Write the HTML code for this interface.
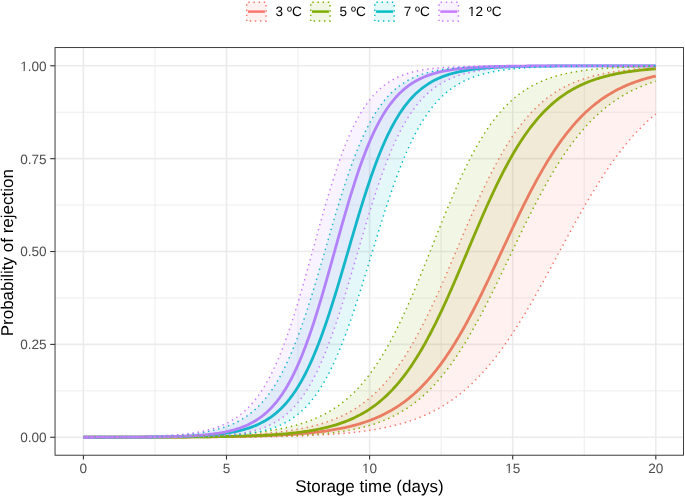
<!DOCTYPE html>
<html><head><meta charset="utf-8"><style>
html,body{margin:0;padding:0;background:#fff;}
svg{display:block;filter:blur(0.35px);}
text{font-family:"Liberation Sans",Arial,sans-serif;text-rendering:geometricPrecision;}
.ax{font-size:13.6px;fill:#4D4D4D;}
.ti{font-size:17px;fill:#000;}
.lg{font-size:13.6px;fill:#000;}
</style></head><body>
<svg width="685" height="498" viewBox="0 0 685 498">
<rect x="0" y="0" width="685" height="498" fill="#fff"/>
<line x1="154.95" y1="47.56" x2="154.95" y2="455.22" stroke="#EBEBEB" stroke-width="0.9"/>
<line x1="298.05" y1="47.56" x2="298.05" y2="455.22" stroke="#EBEBEB" stroke-width="0.9"/>
<line x1="441.15" y1="47.56" x2="441.15" y2="455.22" stroke="#EBEBEB" stroke-width="0.9"/>
<line x1="584.25" y1="47.56" x2="584.25" y2="455.22" stroke="#EBEBEB" stroke-width="0.9"/>
<line x1="55.04" y1="390.83" x2="683.47" y2="390.83" stroke="#EBEBEB" stroke-width="0.9"/>
<line x1="55.04" y1="297.96" x2="683.47" y2="297.96" stroke="#EBEBEB" stroke-width="0.9"/>
<line x1="55.04" y1="205.10" x2="683.47" y2="205.10" stroke="#EBEBEB" stroke-width="0.9"/>
<line x1="55.04" y1="112.23" x2="683.47" y2="112.23" stroke="#EBEBEB" stroke-width="0.9"/>
<line x1="83.40" y1="47.56" x2="83.40" y2="455.22" stroke="#EBEBEB" stroke-width="1.6"/>
<line x1="226.50" y1="47.56" x2="226.50" y2="455.22" stroke="#EBEBEB" stroke-width="1.6"/>
<line x1="369.60" y1="47.56" x2="369.60" y2="455.22" stroke="#EBEBEB" stroke-width="1.6"/>
<line x1="512.70" y1="47.56" x2="512.70" y2="455.22" stroke="#EBEBEB" stroke-width="1.6"/>
<line x1="655.80" y1="47.56" x2="655.80" y2="455.22" stroke="#EBEBEB" stroke-width="1.6"/>
<line x1="55.04" y1="437.26" x2="683.47" y2="437.26" stroke="#EBEBEB" stroke-width="1.6"/>
<line x1="55.04" y1="344.39" x2="683.47" y2="344.39" stroke="#EBEBEB" stroke-width="1.6"/>
<line x1="55.04" y1="251.53" x2="683.47" y2="251.53" stroke="#EBEBEB" stroke-width="1.6"/>
<line x1="55.04" y1="158.67" x2="683.47" y2="158.67" stroke="#EBEBEB" stroke-width="1.6"/>
<line x1="55.04" y1="65.80" x2="683.47" y2="65.80" stroke="#EBEBEB" stroke-width="1.6"/>
<path d="M83.40,437.24 L84.83,437.24 L86.26,437.23 L87.69,437.23 L89.12,437.23 L90.56,437.23 L91.99,437.23 L93.42,437.23 L94.85,437.23 L96.28,437.23 L97.71,437.23 L99.14,437.23 L100.57,437.22 L102.00,437.22 L103.43,437.22 L104.87,437.22 L106.30,437.22 L107.73,437.22 L109.16,437.22 L110.59,437.22 L112.02,437.21 L113.45,437.21 L114.88,437.21 L116.31,437.21 L117.74,437.21 L119.18,437.21 L120.61,437.20 L122.04,437.20 L123.47,437.20 L124.90,437.20 L126.33,437.20 L127.76,437.19 L129.19,437.19 L130.62,437.19 L132.05,437.19 L133.49,437.19 L134.92,437.18 L136.35,437.18 L137.78,437.18 L139.21,437.17 L140.64,437.17 L142.07,437.17 L143.50,437.17 L144.93,437.16 L146.36,437.16 L147.80,437.16 L149.23,437.15 L150.66,437.15 L152.09,437.14 L153.52,437.14 L154.95,437.14 L156.38,437.13 L157.81,437.13 L159.24,437.12 L160.67,437.12 L162.11,437.11 L163.54,437.11 L164.97,437.10 L166.40,437.10 L167.83,437.09 L169.26,437.09 L170.69,437.08 L172.12,437.08 L173.55,437.07 L174.98,437.06 L176.42,437.06 L177.85,437.05 L179.28,437.04 L180.71,437.04 L182.14,437.03 L183.57,437.02 L185.00,437.01 L186.43,437.01 L187.86,437.00 L189.29,436.99 L190.73,436.98 L192.16,436.97 L193.59,436.96 L195.02,436.95 L196.45,436.94 L197.88,436.93 L199.31,436.92 L200.74,436.91 L202.17,436.89 L203.60,436.88 L205.04,436.87 L206.47,436.86 L207.90,436.84 L209.33,436.83 L210.76,436.81 L212.19,436.80 L213.62,436.78 L215.05,436.77 L216.48,436.75 L217.91,436.73 L219.34,436.72 L220.78,436.70 L222.21,436.68 L223.64,436.66 L225.07,436.64 L226.50,436.62 L227.93,436.60 L229.36,436.57 L230.79,436.55 L232.22,436.53 L233.66,436.50 L235.09,436.48 L236.52,436.45 L237.95,436.42 L239.38,436.40 L240.81,436.37 L242.24,436.34 L243.67,436.31 L245.10,436.27 L246.53,436.24 L247.97,436.21 L249.40,436.17 L250.83,436.13 L252.26,436.10 L253.69,436.06 L255.12,436.02 L256.55,435.98 L257.98,435.93 L259.41,435.89 L260.84,435.84 L262.27,435.80 L263.71,435.75 L265.14,435.70 L266.57,435.64 L268.00,435.59 L269.43,435.53 L270.86,435.48 L272.29,435.42 L273.72,435.35 L275.15,435.29 L276.59,435.22 L278.02,435.16 L279.45,435.09 L280.88,435.01 L282.31,434.94 L283.74,434.86 L285.17,434.78 L286.60,434.70 L288.03,434.61 L289.46,434.52 L290.89,434.43 L292.33,434.34 L293.76,434.24 L295.19,434.14 L296.62,434.04 L298.05,433.93 L299.48,433.82 L300.91,433.70 L302.34,433.58 L303.77,433.46 L305.21,433.34 L306.64,433.20 L308.07,433.07 L309.50,432.93 L310.93,432.79 L312.36,432.64 L313.79,432.48 L315.22,432.33 L316.65,432.16 L318.08,431.99 L319.51,431.82 L320.95,431.64 L322.38,431.45 L323.81,431.26 L325.24,431.06 L326.67,430.86 L328.10,430.65 L329.53,430.43 L330.96,430.20 L332.39,429.97 L333.83,429.73 L335.26,429.48 L336.69,429.23 L338.12,428.96 L339.55,428.69 L340.98,428.41 L342.41,428.12 L343.84,427.82 L345.27,427.51 L346.70,427.19 L348.13,426.86 L349.57,426.52 L351.00,426.17 L352.43,425.81 L353.86,425.44 L355.29,425.05 L356.72,424.66 L358.15,424.25 L359.58,423.82 L361.01,423.39 L362.45,422.94 L363.88,422.48 L365.31,422.00 L366.74,421.51 L368.17,421.00 L369.60,420.48 L371.03,419.95 L372.46,419.39 L373.89,418.82 L375.32,418.23 L376.75,417.63 L378.19,417.00 L379.62,416.36 L381.05,415.70 L382.48,415.01 L383.91,414.31 L385.34,413.59 L386.77,412.85 L388.20,412.08 L389.63,411.29 L391.07,410.48 L392.50,409.65 L393.93,408.79 L395.36,407.91 L396.79,407.00 L398.22,406.07 L399.65,405.11 L401.08,404.13 L402.51,403.12 L403.94,402.08 L405.38,401.01 L406.81,399.92 L408.24,398.79 L409.67,397.63 L411.10,396.45 L412.53,395.23 L413.96,393.98 L415.39,392.70 L416.82,391.39 L418.25,390.04 L419.69,388.66 L421.12,387.25 L422.55,385.80 L423.98,384.31 L425.41,382.79 L426.84,381.24 L428.27,379.65 L429.70,378.02 L431.13,376.35 L432.56,374.65 L434.00,372.91 L435.43,371.13 L436.86,369.31 L438.29,367.46 L439.72,365.57 L441.15,363.63 L442.58,361.66 L444.01,359.65 L445.44,357.60 L446.87,355.51 L448.31,353.38 L449.74,351.21 L451.17,349.01 L452.60,346.76 L454.03,344.48 L455.46,342.16 L456.89,339.80 L458.32,337.40 L459.75,334.97 L461.18,332.50 L462.62,330.00 L464.05,327.46 L465.48,324.88 L466.91,322.27 L468.34,319.63 L469.77,316.95 L471.20,314.25 L472.63,311.51 L474.06,308.75 L475.49,305.95 L476.93,303.13 L478.36,300.28 L479.79,297.41 L481.22,294.52 L482.65,291.60 L484.08,288.66 L485.51,285.70 L486.94,282.73 L488.37,279.73 L489.80,276.73 L491.24,273.70 L492.67,270.67 L494.10,267.63 L495.53,264.57 L496.96,261.51 L498.39,258.45 L499.82,255.38 L501.25,252.31 L502.68,249.24 L504.11,246.17 L505.55,243.10 L506.98,240.04 L508.41,236.98 L509.84,233.93 L511.27,230.90 L512.70,227.87 L514.13,224.85 L515.56,221.85 L516.99,218.87 L518.42,215.90 L519.86,212.95 L521.29,210.02 L522.72,207.12 L524.15,204.23 L525.58,201.37 L527.01,198.54 L528.44,195.73 L529.87,192.95 L531.30,190.20 L532.73,187.48 L534.17,184.79 L535.60,182.13 L537.03,179.50 L538.46,176.91 L539.89,174.35 L541.32,171.83 L542.75,169.34 L544.18,166.89 L545.61,164.47 L547.04,162.09 L548.48,159.75 L549.91,157.45 L551.34,155.19 L552.77,152.96 L554.20,150.77 L555.63,148.63 L557.06,146.52 L558.49,144.45 L559.92,142.42 L561.35,140.42 L562.78,138.47 L564.22,136.56 L565.65,134.68 L567.08,132.85 L568.51,131.05 L569.94,129.29 L571.37,127.57 L572.80,125.88 L574.23,124.23 L575.66,122.62 L577.10,121.05 L578.53,119.51 L579.96,118.01 L581.39,116.54 L582.82,115.11 L584.25,113.72 L585.68,112.35 L587.11,111.02 L588.54,109.72 L589.97,108.46 L591.40,107.23 L592.84,106.03 L594.27,104.85 L595.70,103.71 L597.13,102.60 L598.56,101.52 L599.99,100.47 L601.42,99.44 L602.85,98.44 L604.28,97.47 L605.72,96.53 L607.15,95.61 L608.58,94.71 L610.01,93.84 L611.44,93.00 L612.87,92.18 L614.30,91.38 L615.73,90.60 L617.16,89.84 L618.59,89.11 L620.02,88.40 L621.46,87.71 L622.89,87.04 L624.32,86.38 L625.75,85.75 L627.18,85.13 L628.61,84.54 L630.04,83.96 L631.47,83.39 L632.90,82.85 L634.34,82.32 L635.77,81.80 L637.20,81.31 L638.63,80.82 L640.06,80.35 L641.49,79.90 L642.92,79.45 L644.35,79.03 L645.78,78.61 L647.21,78.21 L648.64,77.82 L650.08,77.44 L651.51,77.07 L652.94,76.72 L654.37,76.37 L655.80,76.04" fill="none" stroke="#F8766D" stroke-width="2.8" stroke-linejoin="round"/>
<path d="M83.40,437.24 L84.83,437.24 L86.26,437.24 L87.69,437.24 L89.12,437.24 L90.56,437.24 L91.99,437.23 L93.42,437.23 L94.85,437.23 L96.28,437.23 L97.71,437.23 L99.14,437.23 L100.57,437.23 L102.00,437.23 L103.43,437.23 L104.87,437.23 L106.30,437.22 L107.73,437.22 L109.16,437.22 L110.59,437.22 L112.02,437.22 L113.45,437.22 L114.88,437.22 L116.31,437.21 L117.74,437.21 L119.18,437.21 L120.61,437.21 L122.04,437.21 L123.47,437.20 L124.90,437.20 L126.33,437.20 L127.76,437.20 L129.19,437.20 L130.62,437.19 L132.05,437.19 L133.49,437.19 L134.92,437.18 L136.35,437.18 L137.78,437.18 L139.21,437.18 L140.64,437.17 L142.07,437.17 L143.50,437.17 L144.93,437.16 L146.36,437.16 L147.80,437.16 L149.23,437.15 L150.66,437.15 L152.09,437.14 L153.52,437.14 L154.95,437.13 L156.38,437.13 L157.81,437.13 L159.24,437.12 L160.67,437.11 L162.11,437.11 L163.54,437.10 L164.97,437.10 L166.40,437.09 L167.83,437.09 L169.26,437.08 L170.69,437.07 L172.12,437.07 L173.55,437.06 L174.98,437.05 L176.42,437.04 L177.85,437.03 L179.28,437.03 L180.71,437.02 L182.14,437.01 L183.57,437.00 L185.00,436.99 L186.43,436.98 L187.86,436.97 L189.29,436.96 L190.73,436.95 L192.16,436.94 L193.59,436.92 L195.02,436.91 L196.45,436.90 L197.88,436.88 L199.31,436.87 L200.74,436.86 L202.17,436.84 L203.60,436.83 L205.04,436.81 L206.47,436.79 L207.90,436.77 L209.33,436.76 L210.76,436.74 L212.19,436.72 L213.62,436.70 L215.05,436.68 L216.48,436.66 L217.91,436.63 L219.34,436.61 L220.78,436.59 L222.21,436.56 L223.64,436.53 L225.07,436.51 L226.50,436.48 L227.93,436.45 L229.36,436.42 L230.79,436.39 L232.22,436.36 L233.66,436.32 L235.09,436.29 L236.52,436.25 L237.95,436.21 L239.38,436.18 L240.81,436.14 L242.24,436.09 L243.67,436.05 L245.10,436.01 L246.53,435.96 L247.97,435.91 L249.40,435.86 L250.83,435.81 L252.26,435.75 L253.69,435.70 L255.12,435.64 L256.55,435.58 L257.98,435.52 L259.41,435.45 L260.84,435.39 L262.27,435.32 L263.71,435.24 L265.14,435.17 L266.57,435.09 L268.00,435.01 L269.43,434.93 L270.86,434.84 L272.29,434.75 L273.72,434.66 L275.15,434.56 L276.59,434.46 L278.02,434.36 L279.45,434.25 L280.88,434.14 L282.31,434.03 L283.74,433.91 L285.17,433.78 L286.60,433.66 L288.03,433.52 L289.46,433.38 L290.89,433.24 L292.33,433.09 L293.76,432.94 L295.19,432.78 L296.62,432.62 L298.05,432.45 L299.48,432.27 L300.91,432.08 L302.34,431.89 L303.77,431.70 L305.21,431.49 L306.64,431.28 L308.07,431.06 L309.50,430.83 L310.93,430.60 L312.36,430.36 L313.79,430.10 L315.22,429.84 L316.65,429.57 L318.08,429.29 L319.51,429.00 L320.95,428.70 L322.38,428.39 L323.81,428.06 L325.24,427.73 L326.67,427.38 L328.10,427.03 L329.53,426.66 L330.96,426.27 L332.39,425.88 L333.83,425.46 L335.26,425.04 L336.69,424.60 L338.12,424.14 L339.55,423.67 L340.98,423.18 L342.41,422.68 L343.84,422.16 L345.27,421.62 L346.70,421.06 L348.13,420.48 L349.57,419.89 L351.00,419.27 L352.43,418.63 L353.86,417.98 L355.29,417.30 L356.72,416.59 L358.15,415.87 L359.58,415.12 L361.01,414.34 L362.45,413.54 L363.88,412.72 L365.31,411.86 L366.74,410.98 L368.17,410.07 L369.60,409.14 L371.03,408.17 L372.46,407.17 L373.89,406.15 L375.32,405.09 L376.75,403.99 L378.19,402.87 L379.62,401.71 L381.05,400.52 L382.48,399.28 L383.91,398.02 L385.34,396.71 L386.77,395.37 L388.20,393.99 L389.63,392.57 L391.07,391.12 L392.50,389.62 L393.93,388.07 L395.36,386.49 L396.79,384.86 L398.22,383.19 L399.65,381.48 L401.08,379.72 L402.51,377.92 L403.94,376.07 L405.38,374.18 L406.81,372.24 L408.24,370.25 L409.67,368.22 L411.10,366.14 L412.53,364.01 L413.96,361.83 L415.39,359.60 L416.82,357.33 L418.25,355.01 L419.69,352.64 L421.12,350.23 L422.55,347.76 L423.98,345.25 L425.41,342.70 L426.84,340.09 L428.27,337.44 L429.70,334.75 L431.13,332.01 L432.56,329.22 L434.00,326.40 L435.43,323.53 L436.86,320.62 L438.29,317.67 L439.72,314.68 L441.15,311.66 L442.58,308.60 L444.01,305.50 L445.44,302.37 L446.87,299.21 L448.31,296.02 L449.74,292.80 L451.17,289.56 L452.60,286.29 L454.03,283.00 L455.46,279.69 L456.89,276.36 L458.32,273.01 L459.75,269.65 L461.18,266.27 L462.62,262.89 L464.05,259.50 L465.48,256.11 L466.91,252.71 L468.34,249.31 L469.77,245.91 L471.20,242.51 L472.63,239.13 L474.06,235.75 L475.49,232.38 L476.93,229.02 L478.36,225.68 L479.79,222.35 L481.22,219.05 L482.65,215.76 L484.08,212.50 L485.51,209.26 L486.94,206.05 L488.37,202.87 L489.80,199.72 L491.24,196.60 L492.67,193.52 L494.10,190.47 L495.53,187.45 L496.96,184.48 L498.39,181.54 L499.82,178.64 L501.25,175.79 L502.68,172.97 L504.11,170.20 L505.55,167.48 L506.98,164.80 L508.41,162.16 L509.84,159.57 L511.27,157.03 L512.70,154.53 L514.13,152.08 L515.56,149.68 L516.99,147.33 L518.42,145.02 L519.86,142.77 L521.29,140.56 L522.72,138.39 L524.15,136.28 L525.58,134.21 L527.01,132.19 L528.44,130.22 L529.87,128.29 L531.30,126.41 L532.73,124.58 L534.17,122.79 L535.60,121.05 L537.03,119.35 L538.46,117.69 L539.89,116.08 L541.32,114.51 L542.75,112.98 L544.18,111.49 L545.61,110.04 L547.04,108.64 L548.48,107.27 L549.91,105.94 L551.34,104.65 L552.77,103.39 L554.20,102.17 L555.63,100.99 L557.06,99.84 L558.49,98.73 L559.92,97.64 L561.35,96.59 L562.78,95.58 L564.22,94.59 L565.65,93.63 L567.08,92.70 L568.51,91.80 L569.94,90.93 L571.37,90.09 L572.80,89.27 L574.23,88.48 L575.66,87.71 L577.10,86.97 L578.53,86.25 L579.96,85.55 L581.39,84.88 L582.82,84.23 L584.25,83.60 L585.68,82.99 L587.11,82.40 L588.54,81.82 L589.97,81.27 L591.40,80.74 L592.84,80.22 L594.27,79.72 L595.70,79.24 L597.13,78.78 L598.56,78.32 L599.99,77.89 L601.42,77.47 L602.85,77.06 L604.28,76.67 L605.72,76.29 L607.15,75.92 L608.58,75.57 L610.01,75.23 L611.44,74.89 L612.87,74.58 L614.30,74.27 L615.73,73.97 L617.16,73.68 L618.59,73.40 L620.02,73.14 L621.46,72.88 L622.89,72.63 L624.32,72.39 L625.75,72.15 L627.18,71.93 L628.61,71.71 L630.04,71.50 L631.47,71.30 L632.90,71.11 L634.34,70.92 L635.77,70.74 L637.20,70.56 L638.63,70.39 L640.06,70.23 L641.49,70.07 L642.92,69.92 L644.35,69.77 L645.78,69.63 L647.21,69.50 L648.64,69.36 L650.08,69.24 L651.51,69.11 L652.94,69.00 L654.37,68.88 L655.80,68.77" fill="none" stroke="#7CAE00" stroke-width="2.8" stroke-linejoin="round"/>
<path d="M83.40,437.24 L84.83,437.24 L86.26,437.24 L87.69,437.24 L89.12,437.23 L90.56,437.23 L91.99,437.23 L93.42,437.23 L94.85,437.23 L96.28,437.23 L97.71,437.22 L99.14,437.22 L100.57,437.22 L102.00,437.22 L103.43,437.22 L104.87,437.21 L106.30,437.21 L107.73,437.21 L109.16,437.21 L110.59,437.20 L112.02,437.20 L113.45,437.20 L114.88,437.19 L116.31,437.19 L117.74,437.19 L119.18,437.18 L120.61,437.18 L122.04,437.17 L123.47,437.17 L124.90,437.16 L126.33,437.16 L127.76,437.15 L129.19,437.15 L130.62,437.14 L132.05,437.13 L133.49,437.13 L134.92,437.12 L136.35,437.11 L137.78,437.11 L139.21,437.10 L140.64,437.09 L142.07,437.08 L143.50,437.07 L144.93,437.06 L146.36,437.05 L147.80,437.04 L149.23,437.02 L150.66,437.01 L152.09,437.00 L153.52,436.98 L154.95,436.97 L156.38,436.95 L157.81,436.93 L159.24,436.92 L160.67,436.90 L162.11,436.88 L163.54,436.86 L164.97,436.84 L166.40,436.81 L167.83,436.79 L169.26,436.76 L170.69,436.74 L172.12,436.71 L173.55,436.68 L174.98,436.65 L176.42,436.61 L177.85,436.58 L179.28,436.54 L180.71,436.50 L182.14,436.46 L183.57,436.42 L185.00,436.37 L186.43,436.32 L187.86,436.27 L189.29,436.22 L190.73,436.16 L192.16,436.10 L193.59,436.04 L195.02,435.97 L196.45,435.91 L197.88,435.83 L199.31,435.75 L200.74,435.67 L202.17,435.59 L203.60,435.50 L205.04,435.40 L206.47,435.30 L207.90,435.19 L209.33,435.08 L210.76,434.96 L212.19,434.84 L213.62,434.71 L215.05,434.57 L216.48,434.43 L217.91,434.27 L219.34,434.11 L220.78,433.94 L222.21,433.76 L223.64,433.58 L225.07,433.38 L226.50,433.17 L227.93,432.95 L229.36,432.72 L230.79,432.47 L232.22,432.22 L233.66,431.95 L235.09,431.66 L236.52,431.36 L237.95,431.05 L239.38,430.71 L240.81,430.36 L242.24,430.00 L243.67,429.61 L245.10,429.20 L246.53,428.77 L247.97,428.32 L249.40,427.85 L250.83,427.35 L252.26,426.83 L253.69,426.28 L255.12,425.70 L256.55,425.09 L257.98,424.45 L259.41,423.78 L260.84,423.07 L262.27,422.33 L263.71,421.55 L265.14,420.74 L266.57,419.88 L268.00,418.98 L269.43,418.04 L270.86,417.05 L272.29,416.01 L273.72,414.93 L275.15,413.79 L276.59,412.60 L278.02,411.35 L279.45,410.04 L280.88,408.67 L282.31,407.24 L283.74,405.75 L285.17,404.19 L286.60,402.56 L288.03,400.85 L289.46,399.08 L290.89,397.22 L292.33,395.29 L293.76,393.28 L295.19,391.18 L296.62,389.00 L298.05,386.73 L299.48,384.38 L300.91,381.93 L302.34,379.39 L303.77,376.75 L305.21,374.02 L306.64,371.19 L308.07,368.26 L309.50,365.24 L310.93,362.11 L312.36,358.89 L313.79,355.56 L315.22,352.13 L316.65,348.61 L318.08,344.98 L319.51,341.26 L320.95,337.44 L322.38,333.53 L323.81,329.52 L325.24,325.42 L326.67,321.24 L328.10,316.97 L329.53,312.62 L330.96,308.20 L332.39,303.70 L333.83,299.14 L335.26,294.51 L336.69,289.83 L338.12,285.09 L339.55,280.31 L340.98,275.49 L342.41,270.64 L343.84,265.76 L345.27,260.86 L346.70,255.95 L348.13,251.03 L349.57,246.11 L351.00,241.20 L352.43,236.30 L353.86,231.43 L355.29,226.58 L356.72,221.77 L358.15,217.00 L359.58,212.27 L361.01,207.60 L362.45,202.99 L363.88,198.43 L365.31,193.95 L366.74,189.54 L368.17,185.21 L369.60,180.96 L371.03,176.79 L372.46,172.71 L373.89,168.73 L375.32,164.83 L376.75,161.03 L378.19,157.33 L379.62,153.72 L381.05,150.22 L382.48,146.81 L383.91,143.51 L385.34,140.30 L386.77,137.20 L388.20,134.19 L389.63,131.28 L391.07,128.48 L392.50,125.76 L393.93,123.15 L395.36,120.63 L396.79,118.20 L398.22,115.86 L399.65,113.61 L401.08,111.44 L402.51,109.36 L403.94,107.37 L405.38,105.45 L406.81,103.61 L408.24,101.85 L409.67,100.16 L411.10,98.55 L412.53,97.00 L413.96,95.52 L415.39,94.10 L416.82,92.75 L418.25,91.45 L419.69,90.22 L421.12,89.04 L422.55,87.91 L423.98,86.83 L425.41,85.81 L426.84,84.83 L428.27,83.89 L429.70,83.00 L431.13,82.15 L432.56,81.34 L434.00,80.57 L435.43,79.84 L436.86,79.14 L438.29,78.48 L439.72,77.84 L441.15,77.24 L442.58,76.67 L444.01,76.12 L445.44,75.61 L446.87,75.11 L448.31,74.64 L449.74,74.20 L451.17,73.77 L452.60,73.37 L454.03,72.99 L455.46,72.62 L456.89,72.28 L458.32,71.95 L459.75,71.64 L461.18,71.34 L462.62,71.06 L464.05,70.79 L465.48,70.54 L466.91,70.29 L468.34,70.07 L469.77,69.85 L471.20,69.64 L472.63,69.44 L474.06,69.26 L475.49,69.08 L476.93,68.91 L478.36,68.75 L479.79,68.60 L481.22,68.46 L482.65,68.32 L484.08,68.19 L485.51,68.07 L486.94,67.95 L488.37,67.84 L489.80,67.74 L491.24,67.64 L492.67,67.55 L494.10,67.46 L495.53,67.37 L496.96,67.29 L498.39,67.21 L499.82,67.14 L501.25,67.07 L502.68,67.01 L504.11,66.94 L505.55,66.89 L506.98,66.83 L508.41,66.78 L509.84,66.73 L511.27,66.68 L512.70,66.63 L514.13,66.59 L515.56,66.55 L516.99,66.51 L518.42,66.47 L519.86,66.44 L521.29,66.41 L522.72,66.38 L524.15,66.35 L525.58,66.32 L527.01,66.29 L528.44,66.27 L529.87,66.24 L531.30,66.22 L532.73,66.20 L534.17,66.18 L535.60,66.16 L537.03,66.14 L538.46,66.12 L539.89,66.10 L541.32,66.09 L542.75,66.07 L544.18,66.06 L545.61,66.05 L547.04,66.03 L548.48,66.02 L549.91,66.01 L551.34,66.00 L552.77,65.99 L554.20,65.98 L555.63,65.97 L557.06,65.96 L558.49,65.95 L559.92,65.95 L561.35,65.94 L562.78,65.93 L564.22,65.92 L565.65,65.92 L567.08,65.91 L568.51,65.91 L569.94,65.90 L571.37,65.90 L572.80,65.89 L574.23,65.89 L575.66,65.88 L577.10,65.88 L578.53,65.87 L579.96,65.87 L581.39,65.87 L582.82,65.86 L584.25,65.86 L585.68,65.86 L587.11,65.85 L588.54,65.85 L589.97,65.85 L591.40,65.85 L592.84,65.84 L594.27,65.84 L595.70,65.84 L597.13,65.84 L598.56,65.83 L599.99,65.83 L601.42,65.83 L602.85,65.83 L604.28,65.83 L605.72,65.83 L607.15,65.83 L608.58,65.82 L610.01,65.82 L611.44,65.82 L612.87,65.82 L614.30,65.82 L615.73,65.82 L617.16,65.82 L618.59,65.82 L620.02,65.82 L621.46,65.81 L622.89,65.81 L624.32,65.81 L625.75,65.81 L627.18,65.81 L628.61,65.81 L630.04,65.81 L631.47,65.81 L632.90,65.81 L634.34,65.81 L635.77,65.81 L637.20,65.81 L638.63,65.81 L640.06,65.81 L641.49,65.81 L642.92,65.81 L644.35,65.81 L645.78,65.81 L647.21,65.81 L648.64,65.81 L650.08,65.81 L651.51,65.80 L652.94,65.80 L654.37,65.80 L655.80,65.80" fill="none" stroke="#00BFC4" stroke-width="2.8" stroke-linejoin="round"/>
<path d="M83.40,437.24 L84.83,437.24 L86.26,437.24 L87.69,437.23 L89.12,437.23 L90.56,437.23 L91.99,437.23 L93.42,437.23 L94.85,437.23 L96.28,437.22 L97.71,437.22 L99.14,437.22 L100.57,437.22 L102.00,437.21 L103.43,437.21 L104.87,437.21 L106.30,437.21 L107.73,437.20 L109.16,437.20 L110.59,437.20 L112.02,437.19 L113.45,437.19 L114.88,437.19 L116.31,437.18 L117.74,437.18 L119.18,437.17 L120.61,437.17 L122.04,437.16 L123.47,437.16 L124.90,437.15 L126.33,437.14 L127.76,437.14 L129.19,437.13 L130.62,437.12 L132.05,437.12 L133.49,437.11 L134.92,437.10 L136.35,437.09 L137.78,437.08 L139.21,437.07 L140.64,437.06 L142.07,437.05 L143.50,437.04 L144.93,437.02 L146.36,437.01 L147.80,436.99 L149.23,436.98 L150.66,436.96 L152.09,436.95 L153.52,436.93 L154.95,436.91 L156.38,436.89 L157.81,436.87 L159.24,436.85 L160.67,436.82 L162.11,436.80 L163.54,436.77 L164.97,436.74 L166.40,436.71 L167.83,436.68 L169.26,436.65 L170.69,436.62 L172.12,436.58 L173.55,436.54 L174.98,436.50 L176.42,436.46 L177.85,436.41 L179.28,436.36 L180.71,436.31 L182.14,436.26 L183.57,436.20 L185.00,436.14 L186.43,436.07 L187.86,436.01 L189.29,435.94 L190.73,435.86 L192.16,435.78 L193.59,435.70 L195.02,435.61 L196.45,435.51 L197.88,435.41 L199.31,435.31 L200.74,435.20 L202.17,435.08 L203.60,434.96 L205.04,434.83 L206.47,434.69 L207.90,434.55 L209.33,434.39 L210.76,434.23 L212.19,434.06 L213.62,433.88 L215.05,433.69 L216.48,433.48 L217.91,433.27 L219.34,433.05 L220.78,432.81 L222.21,432.56 L223.64,432.29 L225.07,432.01 L226.50,431.72 L227.93,431.41 L229.36,431.08 L230.79,430.73 L232.22,430.37 L233.66,429.98 L235.09,429.57 L236.52,429.14 L237.95,428.69 L239.38,428.21 L240.81,427.71 L242.24,427.18 L243.67,426.62 L245.10,426.03 L246.53,425.41 L247.97,424.76 L249.40,424.07 L250.83,423.35 L252.26,422.59 L253.69,421.78 L255.12,420.94 L256.55,420.05 L257.98,419.12 L259.41,418.14 L260.84,417.10 L262.27,416.02 L263.71,414.88 L265.14,413.68 L266.57,412.43 L268.00,411.11 L269.43,409.73 L270.86,408.28 L272.29,406.76 L273.72,405.17 L275.15,403.51 L276.59,401.77 L278.02,399.94 L279.45,398.04 L280.88,396.05 L282.31,393.97 L283.74,391.80 L285.17,389.54 L286.60,387.19 L288.03,384.74 L289.46,382.18 L290.89,379.53 L292.33,376.77 L293.76,373.91 L295.19,370.94 L296.62,367.86 L298.05,364.67 L299.48,361.38 L300.91,357.97 L302.34,354.46 L303.77,350.83 L305.21,347.09 L306.64,343.25 L308.07,339.30 L309.50,335.25 L310.93,331.09 L312.36,326.83 L313.79,322.48 L315.22,318.03 L316.65,313.49 L318.08,308.87 L319.51,304.17 L320.95,299.40 L322.38,294.55 L323.81,289.64 L325.24,284.68 L326.67,279.67 L328.10,274.61 L329.53,269.52 L330.96,264.40 L332.39,259.27 L333.83,254.12 L335.26,248.96 L336.69,243.81 L338.12,238.68 L339.55,233.56 L340.98,228.47 L342.41,223.41 L343.84,218.40 L345.27,213.44 L346.70,208.53 L348.13,203.68 L349.57,198.91 L351.00,194.21 L352.43,189.58 L353.86,185.05 L355.29,180.60 L356.72,176.24 L358.15,171.99 L359.58,167.83 L361.01,163.77 L362.45,159.82 L363.88,155.98 L365.31,152.24 L366.74,148.62 L368.17,145.10 L369.60,141.70 L371.03,138.40 L372.46,135.21 L373.89,132.13 L375.32,129.16 L376.75,126.30 L378.19,123.54 L379.62,120.89 L381.05,118.33 L382.48,115.88 L383.91,113.52 L385.34,111.26 L386.77,109.10 L388.20,107.02 L389.63,105.03 L391.07,103.12 L392.50,101.30 L393.93,99.56 L395.36,97.89 L396.79,96.30 L398.22,94.78 L399.65,93.34 L401.08,91.95 L402.51,90.64 L403.94,89.38 L405.38,88.18 L406.81,87.05 L408.24,85.96 L409.67,84.93 L411.10,83.95 L412.53,83.01 L413.96,82.12 L415.39,81.28 L416.82,80.48 L418.25,79.71 L419.69,78.99 L421.12,78.30 L422.55,77.65 L423.98,77.03 L425.41,76.44 L426.84,75.88 L428.27,75.35 L429.70,74.85 L431.13,74.37 L432.56,73.92 L434.00,73.49 L435.43,73.08 L436.86,72.70 L438.29,72.33 L439.72,71.98 L441.15,71.65 L442.58,71.34 L444.01,71.05 L445.44,70.77 L446.87,70.50 L448.31,70.25 L449.74,70.02 L451.17,69.79 L452.60,69.58 L454.03,69.38 L455.46,69.18 L456.89,69.00 L458.32,68.83 L459.75,68.67 L461.18,68.52 L462.62,68.37 L464.05,68.23 L465.48,68.10 L466.91,67.98 L468.34,67.86 L469.77,67.75 L471.20,67.65 L472.63,67.55 L474.06,67.45 L475.49,67.36 L476.93,67.28 L478.36,67.20 L479.79,67.12 L481.22,67.05 L482.65,66.99 L484.08,66.92 L485.51,66.86 L486.94,66.80 L488.37,66.75 L489.80,66.70 L491.24,66.65 L492.67,66.61 L494.10,66.56 L495.53,66.52 L496.96,66.48 L498.39,66.45 L499.82,66.41 L501.25,66.38 L502.68,66.35 L504.11,66.32 L505.55,66.29 L506.98,66.26 L508.41,66.24 L509.84,66.21 L511.27,66.19 L512.70,66.17 L514.13,66.15 L515.56,66.13 L516.99,66.11 L518.42,66.10 L519.86,66.08 L521.29,66.07 L522.72,66.05 L524.15,66.04 L525.58,66.03 L527.01,66.01 L528.44,66.00 L529.87,65.99 L531.30,65.98 L532.73,65.97 L534.17,65.96 L535.60,65.95 L537.03,65.94 L538.46,65.94 L539.89,65.93 L541.32,65.92 L542.75,65.92 L544.18,65.91 L545.61,65.90 L547.04,65.90 L548.48,65.89 L549.91,65.89 L551.34,65.88 L552.77,65.88 L554.20,65.87 L555.63,65.87 L557.06,65.87 L558.49,65.86 L559.92,65.86 L561.35,65.86 L562.78,65.85 L564.22,65.85 L565.65,65.85 L567.08,65.85 L568.51,65.84 L569.94,65.84 L571.37,65.84 L572.80,65.84 L574.23,65.83 L575.66,65.83 L577.10,65.83 L578.53,65.83 L579.96,65.83 L581.39,65.83 L582.82,65.82 L584.25,65.82 L585.68,65.82 L587.11,65.82 L588.54,65.82 L589.97,65.82 L591.40,65.82 L592.84,65.82 L594.27,65.82 L595.70,65.81 L597.13,65.81 L598.56,65.81 L599.99,65.81 L601.42,65.81 L602.85,65.81 L604.28,65.81 L605.72,65.81 L607.15,65.81 L608.58,65.81 L610.01,65.81 L611.44,65.81 L612.87,65.81 L614.30,65.81 L615.73,65.81 L617.16,65.81 L618.59,65.81 L620.02,65.81 L621.46,65.81 L622.89,65.81 L624.32,65.80 L625.75,65.80 L627.18,65.80 L628.61,65.80 L630.04,65.80 L631.47,65.80 L632.90,65.80 L634.34,65.80 L635.77,65.80 L637.20,65.80 L638.63,65.80 L640.06,65.80 L641.49,65.80 L642.92,65.80 L644.35,65.80 L645.78,65.80 L647.21,65.80 L648.64,65.80 L650.08,65.80 L651.51,65.80 L652.94,65.80 L654.37,65.80 L655.80,65.80" fill="none" stroke="#C77CFF" stroke-width="2.8" stroke-linejoin="round"/>
<path d="M83.40,437.17 L84.83,437.17 L86.26,437.17 L87.69,437.16 L89.12,437.16 L90.56,437.16 L91.99,437.15 L93.42,437.15 L94.85,437.15 L96.28,437.15 L97.71,437.14 L99.14,437.14 L100.57,437.14 L102.00,437.13 L103.43,437.13 L104.87,437.12 L106.30,437.12 L107.73,437.12 L109.16,437.11 L110.59,437.11 L112.02,437.10 L113.45,437.10 L114.88,437.09 L116.31,437.09 L117.74,437.08 L119.18,437.08 L120.61,437.07 L122.04,437.07 L123.47,437.06 L124.90,437.06 L126.33,437.05 L127.76,437.04 L129.19,437.04 L130.62,437.03 L132.05,437.02 L133.49,437.02 L134.92,437.01 L136.35,437.00 L137.78,436.99 L139.21,436.99 L140.64,436.98 L142.07,436.97 L143.50,436.96 L144.93,436.95 L146.36,436.94 L147.80,436.93 L149.23,436.92 L150.66,436.91 L152.09,436.90 L153.52,436.89 L154.95,436.88 L156.38,436.87 L157.81,436.86 L159.24,436.85 L160.67,436.84 L162.11,436.82 L163.54,436.81 L164.97,436.80 L166.40,436.78 L167.83,436.77 L169.26,436.75 L170.69,436.74 L172.12,436.72 L173.55,436.71 L174.98,436.69 L176.42,436.67 L177.85,436.65 L179.28,436.64 L180.71,436.62 L182.14,436.60 L183.57,436.58 L185.00,436.56 L186.43,436.54 L187.86,436.51 L189.29,436.49 L190.73,436.47 L192.16,436.44 L193.59,436.42 L195.02,436.39 L196.45,436.37 L197.88,436.34 L199.31,436.31 L200.74,436.28 L202.17,436.25 L203.60,436.22 L205.04,436.19 L206.47,436.16 L207.90,436.12 L209.33,436.09 L210.76,436.05 L212.19,436.02 L213.62,435.98 L215.05,435.94 L216.48,435.90 L217.91,435.86 L219.34,435.81 L220.78,435.77 L222.21,435.72 L223.64,435.67 L225.07,435.62 L226.50,435.57 L227.93,435.52 L229.36,435.47 L230.79,435.41 L232.22,435.35 L233.66,435.29 L235.09,435.23 L236.52,435.17 L237.95,435.10 L239.38,435.04 L240.81,434.97 L242.24,434.90 L243.67,434.82 L245.10,434.75 L246.53,434.67 L247.97,434.58 L249.40,434.50 L250.83,434.41 L252.26,434.32 L253.69,434.23 L255.12,434.14 L256.55,434.04 L257.98,433.94 L259.41,433.83 L260.84,433.72 L262.27,433.61 L263.71,433.49 L265.14,433.37 L266.57,433.25 L268.00,433.12 L269.43,432.99 L270.86,432.85 L272.29,432.71 L273.72,432.57 L275.15,432.42 L276.59,432.26 L278.02,432.11 L279.45,431.94 L280.88,431.77 L282.31,431.59 L283.74,431.41 L285.17,431.22 L286.60,431.03 L288.03,430.83 L289.46,430.62 L290.89,430.41 L292.33,430.19 L293.76,429.96 L295.19,429.73 L296.62,429.48 L298.05,429.23 L299.48,428.97 L300.91,428.70 L302.34,428.43 L303.77,428.14 L305.21,427.85 L306.64,427.54 L308.07,427.23 L309.50,426.90 L310.93,426.57 L312.36,426.22 L313.79,425.86 L315.22,425.49 L316.65,425.11 L318.08,424.72 L319.51,424.31 L320.95,423.89 L322.38,423.46 L323.81,423.01 L325.24,422.55 L326.67,422.07 L328.10,421.58 L329.53,421.07 L330.96,420.54 L332.39,420.00 L333.83,419.44 L335.26,418.86 L336.69,418.27 L338.12,417.65 L339.55,417.02 L340.98,416.37 L342.41,415.69 L343.84,415.00 L345.27,414.28 L346.70,413.54 L348.13,412.78 L349.57,411.99 L351.00,411.18 L352.43,410.34 L353.86,409.48 L355.29,408.59 L356.72,407.68 L358.15,406.74 L359.58,405.76 L361.01,404.76 L362.45,403.73 L363.88,402.67 L365.31,401.58 L366.74,400.46 L368.17,399.30 L369.60,398.11 L371.03,396.89 L372.46,395.63 L373.89,394.34 L375.32,393.01 L376.75,391.64 L378.19,390.24 L379.62,388.79 L381.05,387.31 L382.48,385.79 L383.91,384.23 L385.34,382.63 L386.77,380.98 L388.20,379.30 L389.63,377.57 L391.07,375.79 L392.50,373.98 L393.93,372.12 L395.36,370.21 L396.79,368.26 L398.22,366.27 L399.65,364.23 L401.08,362.14 L402.51,360.01 L403.94,357.83 L405.38,355.60 L406.81,353.33 L408.24,351.01 L409.67,348.64 L411.10,346.23 L412.53,343.77 L413.96,341.27 L415.39,338.72 L416.82,336.12 L418.25,333.48 L419.69,330.80 L421.12,328.08 L422.55,325.31 L423.98,322.49 L425.41,319.64 L426.84,316.75 L428.27,313.82 L429.70,310.85 L431.13,307.85 L432.56,304.81 L434.00,301.73 L435.43,298.63 L436.86,295.49 L438.29,292.32 L439.72,289.13 L441.15,285.91 L442.58,282.67 L444.01,279.40 L445.44,276.12 L446.87,272.81 L448.31,269.49 L449.74,266.16 L451.17,262.82 L452.60,259.46 L454.03,256.10 L455.46,252.73 L456.89,249.36 L458.32,245.99 L459.75,242.62 L461.18,239.25 L462.62,235.89 L464.05,232.54 L465.48,229.20 L466.91,225.87 L468.34,222.56 L469.77,219.26 L471.20,215.98 L472.63,212.72 L474.06,209.49 L475.49,206.28 L476.93,203.09 L478.36,199.94 L479.79,196.81 L481.22,193.72 L482.65,190.66 L484.08,187.64 L485.51,184.65 L486.94,181.70 L488.37,178.79 L489.80,175.92 L491.24,173.09 L492.67,170.30 L494.10,167.55 L495.53,164.85 L496.96,162.20 L498.39,159.59 L499.82,157.02 L501.25,154.50 L502.68,152.03 L504.11,149.61 L505.55,147.23 L506.98,144.90 L508.41,142.62 L509.84,140.39 L511.27,138.21 L512.70,136.07 L514.13,133.98 L515.56,131.94 L516.99,129.95 L518.42,128.00 L519.86,126.10 L521.29,124.24 L522.72,122.44 L524.15,120.67 L525.58,118.96 L527.01,117.28 L528.44,115.65 L529.87,114.07 L531.30,112.52 L532.73,111.02 L534.17,109.56 L535.60,108.14 L537.03,106.76 L538.46,105.42 L539.89,104.12 L541.32,102.85 L542.75,101.62 L544.18,100.43 L545.61,99.27 L547.04,98.15 L548.48,97.06 L549.91,96.01 L551.34,94.98 L552.77,93.99 L554.20,93.03 L555.63,92.10 L557.06,91.20 L558.49,90.32 L559.92,89.48 L561.35,88.66 L562.78,87.87 L564.22,87.10 L565.65,86.36 L567.08,85.64 L568.51,84.95 L569.94,84.27 L571.37,83.62 L572.80,83.00 L574.23,82.39 L575.66,81.80 L577.10,81.24 L578.53,80.69 L579.96,80.16 L581.39,79.65 L582.82,79.15 L584.25,78.68 L585.68,78.22 L587.11,77.77 L588.54,77.34 L589.97,76.93 L591.40,76.53 L592.84,76.14 L594.27,75.77 L595.70,75.41 L597.13,75.06 L598.56,74.72 L599.99,74.40 L601.42,74.09 L602.85,73.79 L604.28,73.50 L605.72,73.22 L607.15,72.95 L608.58,72.69 L610.01,72.43 L611.44,72.19 L612.87,71.96 L614.30,71.73 L615.73,71.52 L617.16,71.31 L618.59,71.10 L620.02,70.91 L621.46,70.72 L622.89,70.54 L624.32,70.37 L625.75,70.20 L627.18,70.04 L628.61,69.88 L630.04,69.73 L631.47,69.58 L632.90,69.44 L634.34,69.31 L635.77,69.18 L637.20,69.06 L638.63,68.93 L640.06,68.82 L641.49,68.71 L642.92,68.60 L644.35,68.50 L645.78,68.40 L647.21,68.30 L648.64,68.21 L650.08,68.12 L651.51,68.03 L652.94,67.95 L654.37,67.87 L655.80,67.79 L655.80,113.97 L654.37,115.15 L652.94,116.37 L651.51,117.60 L650.08,118.87 L648.64,120.16 L647.21,121.47 L645.78,122.82 L644.35,124.18 L642.92,125.58 L641.49,127.00 L640.06,128.45 L638.63,129.93 L637.20,131.44 L635.77,132.97 L634.34,134.53 L632.90,136.12 L631.47,137.74 L630.04,139.39 L628.61,141.06 L627.18,142.77 L625.75,144.50 L624.32,146.26 L622.89,148.06 L621.46,149.88 L620.02,151.72 L618.59,153.60 L617.16,155.51 L615.73,157.44 L614.30,159.41 L612.87,161.40 L611.44,163.42 L610.01,165.46 L608.58,167.54 L607.15,169.64 L605.72,171.77 L604.28,173.93 L602.85,176.11 L601.42,178.32 L599.99,180.55 L598.56,182.81 L597.13,185.09 L595.70,187.40 L594.27,189.73 L592.84,192.09 L591.40,194.46 L589.97,196.86 L588.54,199.28 L587.11,201.72 L585.68,204.17 L584.25,206.65 L582.82,209.14 L581.39,211.66 L579.96,214.18 L578.53,216.73 L577.10,219.29 L575.66,221.86 L574.23,224.44 L572.80,227.04 L571.37,229.64 L569.94,232.26 L568.51,234.89 L567.08,237.52 L565.65,240.16 L564.22,242.80 L562.78,245.45 L561.35,248.11 L559.92,250.76 L558.49,253.42 L557.06,256.08 L555.63,258.74 L554.20,261.39 L552.77,264.04 L551.34,266.69 L549.91,269.34 L548.48,271.97 L547.04,274.60 L545.61,277.22 L544.18,279.84 L542.75,282.44 L541.32,285.03 L539.89,287.61 L538.46,290.17 L537.03,292.73 L535.60,295.26 L534.17,297.78 L532.73,300.29 L531.30,302.77 L529.87,305.24 L528.44,307.69 L527.01,310.12 L525.58,312.52 L524.15,314.91 L522.72,317.27 L521.29,319.61 L519.86,321.93 L518.42,324.22 L516.99,326.49 L515.56,328.73 L514.13,330.95 L512.70,333.14 L511.27,335.31 L509.84,337.45 L508.41,339.56 L506.98,341.64 L505.55,343.69 L504.11,345.72 L502.68,347.72 L501.25,349.69 L499.82,351.63 L498.39,353.54 L496.96,355.42 L495.53,357.27 L494.10,359.09 L492.67,360.89 L491.24,362.65 L489.80,364.38 L488.37,366.09 L486.94,367.76 L485.51,369.41 L484.08,371.03 L482.65,372.61 L481.22,374.17 L479.79,375.70 L478.36,377.20 L476.93,378.67 L475.49,380.11 L474.06,381.53 L472.63,382.91 L471.20,384.27 L469.77,385.61 L468.34,386.91 L466.91,388.19 L465.48,389.44 L464.05,390.66 L462.62,391.86 L461.18,393.03 L459.75,394.18 L458.32,395.30 L456.89,396.40 L455.46,397.47 L454.03,398.52 L452.60,399.55 L451.17,400.55 L449.74,401.53 L448.31,402.48 L446.87,403.42 L445.44,404.33 L444.01,405.22 L442.58,406.09 L441.15,406.94 L439.72,407.77 L438.29,408.58 L436.86,409.37 L435.43,410.13 L434.00,410.89 L432.56,411.62 L431.13,412.33 L429.70,413.03 L428.27,413.70 L426.84,414.37 L425.41,415.01 L423.98,415.64 L422.55,416.25 L421.12,416.85 L419.69,417.43 L418.25,417.99 L416.82,418.54 L415.39,419.08 L413.96,419.60 L412.53,420.11 L411.10,420.61 L409.67,421.09 L408.24,421.56 L406.81,422.01 L405.38,422.46 L403.94,422.89 L402.51,423.31 L401.08,423.72 L399.65,424.12 L398.22,424.51 L396.79,424.88 L395.36,425.25 L393.93,425.61 L392.50,425.95 L391.07,426.29 L389.63,426.62 L388.20,426.93 L386.77,427.24 L385.34,427.54 L383.91,427.84 L382.48,428.12 L381.05,428.40 L379.62,428.66 L378.19,428.92 L376.75,429.18 L375.32,429.42 L373.89,429.66 L372.46,429.89 L371.03,430.12 L369.60,430.34 L368.17,430.55 L366.74,430.75 L365.31,430.95 L363.88,431.15 L362.45,431.34 L361.01,431.52 L359.58,431.70 L358.15,431.87 L356.72,432.04 L355.29,432.20 L353.86,432.36 L352.43,432.51 L351.00,432.66 L349.57,432.80 L348.13,432.94 L346.70,433.08 L345.27,433.21 L343.84,433.34 L342.41,433.46 L340.98,433.58 L339.55,433.70 L338.12,433.81 L336.69,433.92 L335.26,434.03 L333.83,434.13 L332.39,434.23 L330.96,434.33 L329.53,434.42 L328.10,434.51 L326.67,434.60 L325.24,434.69 L323.81,434.77 L322.38,434.85 L320.95,434.93 L319.51,435.00 L318.08,435.07 L316.65,435.15 L315.22,435.21 L313.79,435.28 L312.36,435.35 L310.93,435.41 L309.50,435.47 L308.07,435.53 L306.64,435.58 L305.21,435.64 L303.77,435.69 L302.34,435.74 L300.91,435.79 L299.48,435.84 L298.05,435.89 L296.62,435.93 L295.19,435.98 L293.76,436.02 L292.33,436.06 L290.89,436.10 L289.46,436.14 L288.03,436.18 L286.60,436.21 L285.17,436.25 L283.74,436.28 L282.31,436.31 L280.88,436.35 L279.45,436.38 L278.02,436.41 L276.59,436.43 L275.15,436.46 L273.72,436.49 L272.29,436.51 L270.86,436.54 L269.43,436.56 L268.00,436.59 L266.57,436.61 L265.14,436.63 L263.71,436.65 L262.27,436.67 L260.84,436.69 L259.41,436.71 L257.98,436.73 L256.55,436.75 L255.12,436.77 L253.69,436.78 L252.26,436.80 L250.83,436.82 L249.40,436.83 L247.97,436.85 L246.53,436.86 L245.10,436.87 L243.67,436.89 L242.24,436.90 L240.81,436.91 L239.38,436.92 L237.95,436.94 L236.52,436.95 L235.09,436.96 L233.66,436.97 L232.22,436.98 L230.79,436.99 L229.36,437.00 L227.93,437.01 L226.50,437.02 L225.07,437.02 L223.64,437.03 L222.21,437.04 L220.78,437.05 L219.34,437.06 L217.91,437.06 L216.48,437.07 L215.05,437.08 L213.62,437.08 L212.19,437.09 L210.76,437.10 L209.33,437.10 L207.90,437.11 L206.47,437.11 L205.04,437.12 L203.60,437.12 L202.17,437.13 L200.74,437.13 L199.31,437.14 L197.88,437.14 L196.45,437.14 L195.02,437.15 L193.59,437.15 L192.16,437.16 L190.73,437.16 L189.29,437.16 L187.86,437.17 L186.43,437.17 L185.00,437.17 L183.57,437.18 L182.14,437.18 L180.71,437.18 L179.28,437.19 L177.85,437.19 L176.42,437.19 L174.98,437.19 L173.55,437.20 L172.12,437.20 L170.69,437.20 L169.26,437.20 L167.83,437.20 L166.40,437.21 L164.97,437.21 L163.54,437.21 L162.11,437.21 L160.67,437.21 L159.24,437.22 L157.81,437.22 L156.38,437.22 L154.95,437.22 L153.52,437.22 L152.09,437.22 L150.66,437.22 L149.23,437.23 L147.80,437.23 L146.36,437.23 L144.93,437.23 L143.50,437.23 L142.07,437.23 L140.64,437.23 L139.21,437.23 L137.78,437.23 L136.35,437.24 L134.92,437.24 L133.49,437.24 L132.05,437.24 L130.62,437.24 L129.19,437.24 L127.76,437.24 L126.33,437.24 L124.90,437.24 L123.47,437.24 L122.04,437.24 L120.61,437.24 L119.18,437.24 L117.74,437.24 L116.31,437.25 L114.88,437.25 L113.45,437.25 L112.02,437.25 L110.59,437.25 L109.16,437.25 L107.73,437.25 L106.30,437.25 L104.87,437.25 L103.43,437.25 L102.00,437.25 L100.57,437.25 L99.14,437.25 L97.71,437.25 L96.28,437.25 L94.85,437.25 L93.42,437.25 L91.99,437.25 L90.56,437.25 L89.12,437.25 L87.69,437.25 L86.26,437.25 L84.83,437.25 L83.40,437.25Z" fill="#F8766D" fill-opacity="0.1" stroke="none"/>
<path d="M83.40,437.17 L84.83,437.17 L86.26,437.17 L87.69,437.16 L89.12,437.16 L90.56,437.16 L91.99,437.15 L93.42,437.15 L94.85,437.15 L96.28,437.15 L97.71,437.14 L99.14,437.14 L100.57,437.14 L102.00,437.13 L103.43,437.13 L104.87,437.12 L106.30,437.12 L107.73,437.12 L109.16,437.11 L110.59,437.11 L112.02,437.10 L113.45,437.10 L114.88,437.09 L116.31,437.09 L117.74,437.08 L119.18,437.08 L120.61,437.07 L122.04,437.07 L123.47,437.06 L124.90,437.06 L126.33,437.05 L127.76,437.04 L129.19,437.04 L130.62,437.03 L132.05,437.02 L133.49,437.02 L134.92,437.01 L136.35,437.00 L137.78,436.99 L139.21,436.99 L140.64,436.98 L142.07,436.97 L143.50,436.96 L144.93,436.95 L146.36,436.94 L147.80,436.93 L149.23,436.92 L150.66,436.91 L152.09,436.90 L153.52,436.89 L154.95,436.88 L156.38,436.87 L157.81,436.86 L159.24,436.85 L160.67,436.84 L162.11,436.82 L163.54,436.81 L164.97,436.80 L166.40,436.78 L167.83,436.77 L169.26,436.75 L170.69,436.74 L172.12,436.72 L173.55,436.71 L174.98,436.69 L176.42,436.67 L177.85,436.65 L179.28,436.64 L180.71,436.62 L182.14,436.60 L183.57,436.58 L185.00,436.56 L186.43,436.54 L187.86,436.51 L189.29,436.49 L190.73,436.47 L192.16,436.44 L193.59,436.42 L195.02,436.39 L196.45,436.37 L197.88,436.34 L199.31,436.31 L200.74,436.28 L202.17,436.25 L203.60,436.22 L205.04,436.19 L206.47,436.16 L207.90,436.12 L209.33,436.09 L210.76,436.05 L212.19,436.02 L213.62,435.98 L215.05,435.94 L216.48,435.90 L217.91,435.86 L219.34,435.81 L220.78,435.77 L222.21,435.72 L223.64,435.67 L225.07,435.62 L226.50,435.57 L227.93,435.52 L229.36,435.47 L230.79,435.41 L232.22,435.35 L233.66,435.29 L235.09,435.23 L236.52,435.17 L237.95,435.10 L239.38,435.04 L240.81,434.97 L242.24,434.90 L243.67,434.82 L245.10,434.75 L246.53,434.67 L247.97,434.58 L249.40,434.50 L250.83,434.41 L252.26,434.32 L253.69,434.23 L255.12,434.14 L256.55,434.04 L257.98,433.94 L259.41,433.83 L260.84,433.72 L262.27,433.61 L263.71,433.49 L265.14,433.37 L266.57,433.25 L268.00,433.12 L269.43,432.99 L270.86,432.85 L272.29,432.71 L273.72,432.57 L275.15,432.42 L276.59,432.26 L278.02,432.11 L279.45,431.94 L280.88,431.77 L282.31,431.59 L283.74,431.41 L285.17,431.22 L286.60,431.03 L288.03,430.83 L289.46,430.62 L290.89,430.41 L292.33,430.19 L293.76,429.96 L295.19,429.73 L296.62,429.48 L298.05,429.23 L299.48,428.97 L300.91,428.70 L302.34,428.43 L303.77,428.14 L305.21,427.85 L306.64,427.54 L308.07,427.23 L309.50,426.90 L310.93,426.57 L312.36,426.22 L313.79,425.86 L315.22,425.49 L316.65,425.11 L318.08,424.72 L319.51,424.31 L320.95,423.89 L322.38,423.46 L323.81,423.01 L325.24,422.55 L326.67,422.07 L328.10,421.58 L329.53,421.07 L330.96,420.54 L332.39,420.00 L333.83,419.44 L335.26,418.86 L336.69,418.27 L338.12,417.65 L339.55,417.02 L340.98,416.37 L342.41,415.69 L343.84,415.00 L345.27,414.28 L346.70,413.54 L348.13,412.78 L349.57,411.99 L351.00,411.18 L352.43,410.34 L353.86,409.48 L355.29,408.59 L356.72,407.68 L358.15,406.74 L359.58,405.76 L361.01,404.76 L362.45,403.73 L363.88,402.67 L365.31,401.58 L366.74,400.46 L368.17,399.30 L369.60,398.11 L371.03,396.89 L372.46,395.63 L373.89,394.34 L375.32,393.01 L376.75,391.64 L378.19,390.24 L379.62,388.79 L381.05,387.31 L382.48,385.79 L383.91,384.23 L385.34,382.63 L386.77,380.98 L388.20,379.30 L389.63,377.57 L391.07,375.79 L392.50,373.98 L393.93,372.12 L395.36,370.21 L396.79,368.26 L398.22,366.27 L399.65,364.23 L401.08,362.14 L402.51,360.01 L403.94,357.83 L405.38,355.60 L406.81,353.33 L408.24,351.01 L409.67,348.64 L411.10,346.23 L412.53,343.77 L413.96,341.27 L415.39,338.72 L416.82,336.12 L418.25,333.48 L419.69,330.80 L421.12,328.08 L422.55,325.31 L423.98,322.49 L425.41,319.64 L426.84,316.75 L428.27,313.82 L429.70,310.85 L431.13,307.85 L432.56,304.81 L434.00,301.73 L435.43,298.63 L436.86,295.49 L438.29,292.32 L439.72,289.13 L441.15,285.91 L442.58,282.67 L444.01,279.40 L445.44,276.12 L446.87,272.81 L448.31,269.49 L449.74,266.16 L451.17,262.82 L452.60,259.46 L454.03,256.10 L455.46,252.73 L456.89,249.36 L458.32,245.99 L459.75,242.62 L461.18,239.25 L462.62,235.89 L464.05,232.54 L465.48,229.20 L466.91,225.87 L468.34,222.56 L469.77,219.26 L471.20,215.98 L472.63,212.72 L474.06,209.49 L475.49,206.28 L476.93,203.09 L478.36,199.94 L479.79,196.81 L481.22,193.72 L482.65,190.66 L484.08,187.64 L485.51,184.65 L486.94,181.70 L488.37,178.79 L489.80,175.92 L491.24,173.09 L492.67,170.30 L494.10,167.55 L495.53,164.85 L496.96,162.20 L498.39,159.59 L499.82,157.02 L501.25,154.50 L502.68,152.03 L504.11,149.61 L505.55,147.23 L506.98,144.90 L508.41,142.62 L509.84,140.39 L511.27,138.21 L512.70,136.07 L514.13,133.98 L515.56,131.94 L516.99,129.95 L518.42,128.00 L519.86,126.10 L521.29,124.24 L522.72,122.44 L524.15,120.67 L525.58,118.96 L527.01,117.28 L528.44,115.65 L529.87,114.07 L531.30,112.52 L532.73,111.02 L534.17,109.56 L535.60,108.14 L537.03,106.76 L538.46,105.42 L539.89,104.12 L541.32,102.85 L542.75,101.62 L544.18,100.43 L545.61,99.27 L547.04,98.15 L548.48,97.06 L549.91,96.01 L551.34,94.98 L552.77,93.99 L554.20,93.03 L555.63,92.10 L557.06,91.20 L558.49,90.32 L559.92,89.48 L561.35,88.66 L562.78,87.87 L564.22,87.10 L565.65,86.36 L567.08,85.64 L568.51,84.95 L569.94,84.27 L571.37,83.62 L572.80,83.00 L574.23,82.39 L575.66,81.80 L577.10,81.24 L578.53,80.69 L579.96,80.16 L581.39,79.65 L582.82,79.15 L584.25,78.68 L585.68,78.22 L587.11,77.77 L588.54,77.34 L589.97,76.93 L591.40,76.53 L592.84,76.14 L594.27,75.77 L595.70,75.41 L597.13,75.06 L598.56,74.72 L599.99,74.40 L601.42,74.09 L602.85,73.79 L604.28,73.50 L605.72,73.22 L607.15,72.95 L608.58,72.69 L610.01,72.43 L611.44,72.19 L612.87,71.96 L614.30,71.73 L615.73,71.52 L617.16,71.31 L618.59,71.10 L620.02,70.91 L621.46,70.72 L622.89,70.54 L624.32,70.37 L625.75,70.20 L627.18,70.04 L628.61,69.88 L630.04,69.73 L631.47,69.58 L632.90,69.44 L634.34,69.31 L635.77,69.18 L637.20,69.06 L638.63,68.93 L640.06,68.82 L641.49,68.71 L642.92,68.60 L644.35,68.50 L645.78,68.40 L647.21,68.30 L648.64,68.21 L650.08,68.12 L651.51,68.03 L652.94,67.95 L654.37,67.87 L655.80,67.79" fill="none" stroke="#F8766D" stroke-width="1.45" stroke-dasharray="1.45 3.75"/>
<path d="M83.40,437.25 L84.83,437.25 L86.26,437.25 L87.69,437.25 L89.12,437.25 L90.56,437.25 L91.99,437.25 L93.42,437.25 L94.85,437.25 L96.28,437.25 L97.71,437.25 L99.14,437.25 L100.57,437.25 L102.00,437.25 L103.43,437.25 L104.87,437.25 L106.30,437.25 L107.73,437.25 L109.16,437.25 L110.59,437.25 L112.02,437.25 L113.45,437.25 L114.88,437.25 L116.31,437.25 L117.74,437.24 L119.18,437.24 L120.61,437.24 L122.04,437.24 L123.47,437.24 L124.90,437.24 L126.33,437.24 L127.76,437.24 L129.19,437.24 L130.62,437.24 L132.05,437.24 L133.49,437.24 L134.92,437.24 L136.35,437.24 L137.78,437.23 L139.21,437.23 L140.64,437.23 L142.07,437.23 L143.50,437.23 L144.93,437.23 L146.36,437.23 L147.80,437.23 L149.23,437.23 L150.66,437.22 L152.09,437.22 L153.52,437.22 L154.95,437.22 L156.38,437.22 L157.81,437.22 L159.24,437.22 L160.67,437.21 L162.11,437.21 L163.54,437.21 L164.97,437.21 L166.40,437.21 L167.83,437.20 L169.26,437.20 L170.69,437.20 L172.12,437.20 L173.55,437.20 L174.98,437.19 L176.42,437.19 L177.85,437.19 L179.28,437.19 L180.71,437.18 L182.14,437.18 L183.57,437.18 L185.00,437.17 L186.43,437.17 L187.86,437.17 L189.29,437.16 L190.73,437.16 L192.16,437.16 L193.59,437.15 L195.02,437.15 L196.45,437.14 L197.88,437.14 L199.31,437.14 L200.74,437.13 L202.17,437.13 L203.60,437.12 L205.04,437.12 L206.47,437.11 L207.90,437.11 L209.33,437.10 L210.76,437.10 L212.19,437.09 L213.62,437.08 L215.05,437.08 L216.48,437.07 L217.91,437.06 L219.34,437.06 L220.78,437.05 L222.21,437.04 L223.64,437.03 L225.07,437.02 L226.50,437.02 L227.93,437.01 L229.36,437.00 L230.79,436.99 L232.22,436.98 L233.66,436.97 L235.09,436.96 L236.52,436.95 L237.95,436.94 L239.38,436.92 L240.81,436.91 L242.24,436.90 L243.67,436.89 L245.10,436.87 L246.53,436.86 L247.97,436.85 L249.40,436.83 L250.83,436.82 L252.26,436.80 L253.69,436.78 L255.12,436.77 L256.55,436.75 L257.98,436.73 L259.41,436.71 L260.84,436.69 L262.27,436.67 L263.71,436.65 L265.14,436.63 L266.57,436.61 L268.00,436.59 L269.43,436.56 L270.86,436.54 L272.29,436.51 L273.72,436.49 L275.15,436.46 L276.59,436.43 L278.02,436.41 L279.45,436.38 L280.88,436.35 L282.31,436.31 L283.74,436.28 L285.17,436.25 L286.60,436.21 L288.03,436.18 L289.46,436.14 L290.89,436.10 L292.33,436.06 L293.76,436.02 L295.19,435.98 L296.62,435.93 L298.05,435.89 L299.48,435.84 L300.91,435.79 L302.34,435.74 L303.77,435.69 L305.21,435.64 L306.64,435.58 L308.07,435.53 L309.50,435.47 L310.93,435.41 L312.36,435.35 L313.79,435.28 L315.22,435.21 L316.65,435.15 L318.08,435.07 L319.51,435.00 L320.95,434.93 L322.38,434.85 L323.81,434.77 L325.24,434.69 L326.67,434.60 L328.10,434.51 L329.53,434.42 L330.96,434.33 L332.39,434.23 L333.83,434.13 L335.26,434.03 L336.69,433.92 L338.12,433.81 L339.55,433.70 L340.98,433.58 L342.41,433.46 L343.84,433.34 L345.27,433.21 L346.70,433.08 L348.13,432.94 L349.57,432.80 L351.00,432.66 L352.43,432.51 L353.86,432.36 L355.29,432.20 L356.72,432.04 L358.15,431.87 L359.58,431.70 L361.01,431.52 L362.45,431.34 L363.88,431.15 L365.31,430.95 L366.74,430.75 L368.17,430.55 L369.60,430.34 L371.03,430.12 L372.46,429.89 L373.89,429.66 L375.32,429.42 L376.75,429.18 L378.19,428.92 L379.62,428.66 L381.05,428.40 L382.48,428.12 L383.91,427.84 L385.34,427.54 L386.77,427.24 L388.20,426.93 L389.63,426.62 L391.07,426.29 L392.50,425.95 L393.93,425.61 L395.36,425.25 L396.79,424.88 L398.22,424.51 L399.65,424.12 L401.08,423.72 L402.51,423.31 L403.94,422.89 L405.38,422.46 L406.81,422.01 L408.24,421.56 L409.67,421.09 L411.10,420.61 L412.53,420.11 L413.96,419.60 L415.39,419.08 L416.82,418.54 L418.25,417.99 L419.69,417.43 L421.12,416.85 L422.55,416.25 L423.98,415.64 L425.41,415.01 L426.84,414.37 L428.27,413.70 L429.70,413.03 L431.13,412.33 L432.56,411.62 L434.00,410.89 L435.43,410.13 L436.86,409.37 L438.29,408.58 L439.72,407.77 L441.15,406.94 L442.58,406.09 L444.01,405.22 L445.44,404.33 L446.87,403.42 L448.31,402.48 L449.74,401.53 L451.17,400.55 L452.60,399.55 L454.03,398.52 L455.46,397.47 L456.89,396.40 L458.32,395.30 L459.75,394.18 L461.18,393.03 L462.62,391.86 L464.05,390.66 L465.48,389.44 L466.91,388.19 L468.34,386.91 L469.77,385.61 L471.20,384.27 L472.63,382.91 L474.06,381.53 L475.49,380.11 L476.93,378.67 L478.36,377.20 L479.79,375.70 L481.22,374.17 L482.65,372.61 L484.08,371.03 L485.51,369.41 L486.94,367.76 L488.37,366.09 L489.80,364.38 L491.24,362.65 L492.67,360.89 L494.10,359.09 L495.53,357.27 L496.96,355.42 L498.39,353.54 L499.82,351.63 L501.25,349.69 L502.68,347.72 L504.11,345.72 L505.55,343.69 L506.98,341.64 L508.41,339.56 L509.84,337.45 L511.27,335.31 L512.70,333.14 L514.13,330.95 L515.56,328.73 L516.99,326.49 L518.42,324.22 L519.86,321.93 L521.29,319.61 L522.72,317.27 L524.15,314.91 L525.58,312.52 L527.01,310.12 L528.44,307.69 L529.87,305.24 L531.30,302.77 L532.73,300.29 L534.17,297.78 L535.60,295.26 L537.03,292.73 L538.46,290.17 L539.89,287.61 L541.32,285.03 L542.75,282.44 L544.18,279.84 L545.61,277.22 L547.04,274.60 L548.48,271.97 L549.91,269.34 L551.34,266.69 L552.77,264.04 L554.20,261.39 L555.63,258.74 L557.06,256.08 L558.49,253.42 L559.92,250.76 L561.35,248.11 L562.78,245.45 L564.22,242.80 L565.65,240.16 L567.08,237.52 L568.51,234.89 L569.94,232.26 L571.37,229.64 L572.80,227.04 L574.23,224.44 L575.66,221.86 L577.10,219.29 L578.53,216.73 L579.96,214.18 L581.39,211.66 L582.82,209.14 L584.25,206.65 L585.68,204.17 L587.11,201.72 L588.54,199.28 L589.97,196.86 L591.40,194.46 L592.84,192.09 L594.27,189.73 L595.70,187.40 L597.13,185.09 L598.56,182.81 L599.99,180.55 L601.42,178.32 L602.85,176.11 L604.28,173.93 L605.72,171.77 L607.15,169.64 L608.58,167.54 L610.01,165.46 L611.44,163.42 L612.87,161.40 L614.30,159.41 L615.73,157.44 L617.16,155.51 L618.59,153.60 L620.02,151.72 L621.46,149.88 L622.89,148.06 L624.32,146.26 L625.75,144.50 L627.18,142.77 L628.61,141.06 L630.04,139.39 L631.47,137.74 L632.90,136.12 L634.34,134.53 L635.77,132.97 L637.20,131.44 L638.63,129.93 L640.06,128.45 L641.49,127.00 L642.92,125.58 L644.35,124.18 L645.78,122.82 L647.21,121.47 L648.64,120.16 L650.08,118.87 L651.51,117.60 L652.94,116.37 L654.37,115.15 L655.80,113.97" fill="none" stroke="#F8766D" stroke-width="1.45" stroke-dasharray="1.45 3.75"/>
<path d="M83.40,437.15 L84.83,437.15 L86.26,437.14 L87.69,437.14 L89.12,437.13 L90.56,437.13 L91.99,437.13 L93.42,437.12 L94.85,437.12 L96.28,437.11 L97.71,437.11 L99.14,437.10 L100.57,437.10 L102.00,437.09 L103.43,437.09 L104.87,437.08 L106.30,437.08 L107.73,437.07 L109.16,437.07 L110.59,437.06 L112.02,437.05 L113.45,437.05 L114.88,437.04 L116.31,437.04 L117.74,437.03 L119.18,437.02 L120.61,437.01 L122.04,437.01 L123.47,437.00 L124.90,436.99 L126.33,436.98 L127.76,436.97 L129.19,436.96 L130.62,436.95 L132.05,436.94 L133.49,436.93 L134.92,436.92 L136.35,436.91 L137.78,436.90 L139.21,436.89 L140.64,436.88 L142.07,436.87 L143.50,436.86 L144.93,436.84 L146.36,436.83 L147.80,436.82 L149.23,436.80 L150.66,436.79 L152.09,436.77 L153.52,436.76 L154.95,436.74 L156.38,436.73 L157.81,436.71 L159.24,436.69 L160.67,436.67 L162.11,436.65 L163.54,436.64 L164.97,436.62 L166.40,436.60 L167.83,436.57 L169.26,436.55 L170.69,436.53 L172.12,436.51 L173.55,436.48 L174.98,436.46 L176.42,436.43 L177.85,436.41 L179.28,436.38 L180.71,436.35 L182.14,436.32 L183.57,436.29 L185.00,436.26 L186.43,436.23 L187.86,436.20 L189.29,436.16 L190.73,436.13 L192.16,436.09 L193.59,436.05 L195.02,436.02 L196.45,435.98 L197.88,435.93 L199.31,435.89 L200.74,435.85 L202.17,435.80 L203.60,435.76 L205.04,435.71 L206.47,435.66 L207.90,435.61 L209.33,435.55 L210.76,435.50 L212.19,435.44 L213.62,435.38 L215.05,435.32 L216.48,435.26 L217.91,435.19 L219.34,435.13 L220.78,435.06 L222.21,434.99 L223.64,434.91 L225.07,434.84 L226.50,434.76 L227.93,434.68 L229.36,434.59 L230.79,434.51 L232.22,434.42 L233.66,434.33 L235.09,434.23 L236.52,434.13 L237.95,434.03 L239.38,433.92 L240.81,433.82 L242.24,433.70 L243.67,433.59 L245.10,433.47 L246.53,433.34 L247.97,433.22 L249.40,433.08 L250.83,432.95 L252.26,432.80 L253.69,432.66 L255.12,432.51 L256.55,432.35 L257.98,432.19 L259.41,432.02 L260.84,431.85 L262.27,431.67 L263.71,431.49 L265.14,431.30 L266.57,431.10 L268.00,430.90 L269.43,430.69 L270.86,430.47 L272.29,430.25 L273.72,430.01 L275.15,429.77 L276.59,429.53 L278.02,429.27 L279.45,429.01 L280.88,428.73 L282.31,428.45 L283.74,428.16 L285.17,427.86 L286.60,427.54 L288.03,427.22 L289.46,426.89 L290.89,426.54 L292.33,426.19 L293.76,425.82 L295.19,425.44 L296.62,425.04 L298.05,424.64 L299.48,424.22 L300.91,423.78 L302.34,423.33 L303.77,422.87 L305.21,422.39 L306.64,421.90 L308.07,421.39 L309.50,420.86 L310.93,420.31 L312.36,419.75 L313.79,419.17 L315.22,418.56 L316.65,417.94 L318.08,417.30 L319.51,416.64 L320.95,415.95 L322.38,415.25 L323.81,414.52 L325.24,413.76 L326.67,412.98 L328.10,412.18 L329.53,411.35 L330.96,410.50 L332.39,409.61 L333.83,408.70 L335.26,407.76 L336.69,406.79 L338.12,405.79 L339.55,404.76 L340.98,403.70 L342.41,402.60 L343.84,401.47 L345.27,400.31 L346.70,399.11 L348.13,397.87 L349.57,396.60 L351.00,395.29 L352.43,393.94 L353.86,392.55 L355.29,391.12 L356.72,389.65 L358.15,388.13 L359.58,386.58 L361.01,384.97 L362.45,383.33 L363.88,381.64 L365.31,379.90 L366.74,378.12 L368.17,376.29 L369.60,374.41 L371.03,372.48 L372.46,370.50 L373.89,368.47 L375.32,366.39 L376.75,364.27 L378.19,362.09 L379.62,359.85 L381.05,357.57 L382.48,355.23 L383.91,352.84 L385.34,350.40 L386.77,347.91 L388.20,345.36 L389.63,342.77 L391.07,340.12 L392.50,337.42 L393.93,334.66 L395.36,331.86 L396.79,329.01 L398.22,326.11 L399.65,323.15 L401.08,320.16 L402.51,317.11 L403.94,314.02 L405.38,310.89 L406.81,307.71 L408.24,304.50 L409.67,301.24 L411.10,297.95 L412.53,294.61 L413.96,291.25 L415.39,287.85 L416.82,284.43 L418.25,280.97 L419.69,277.49 L421.12,273.99 L422.55,270.46 L423.98,266.92 L425.41,263.36 L426.84,259.78 L428.27,256.20 L429.70,252.61 L431.13,249.01 L432.56,245.41 L434.00,241.81 L435.43,238.22 L436.86,234.63 L438.29,231.04 L439.72,227.47 L441.15,223.91 L442.58,220.37 L444.01,216.85 L445.44,213.35 L446.87,209.87 L448.31,206.42 L449.74,203.00 L451.17,199.61 L452.60,196.26 L454.03,192.94 L455.46,189.65 L456.89,186.41 L458.32,183.21 L459.75,180.05 L461.18,176.93 L462.62,173.86 L464.05,170.84 L465.48,167.87 L466.91,164.95 L468.34,162.07 L469.77,159.25 L471.20,156.49 L472.63,153.77 L474.06,151.11 L475.49,148.51 L476.93,145.96 L478.36,143.46 L479.79,141.03 L481.22,138.64 L482.65,136.31 L484.08,134.04 L485.51,131.82 L486.94,129.66 L488.37,127.55 L489.80,125.50 L491.24,123.50 L492.67,121.55 L494.10,119.66 L495.53,117.82 L496.96,116.03 L498.39,114.29 L499.82,112.60 L501.25,110.96 L502.68,109.37 L504.11,107.83 L505.55,106.33 L506.98,104.88 L508.41,103.48 L509.84,102.12 L511.27,100.80 L512.70,99.52 L514.13,98.29 L515.56,97.09 L516.99,95.94 L518.42,94.82 L519.86,93.74 L521.29,92.70 L522.72,91.69 L524.15,90.72 L525.58,89.78 L527.01,88.87 L528.44,87.99 L529.87,87.15 L531.30,86.33 L532.73,85.55 L534.17,84.79 L535.60,84.06 L537.03,83.35 L538.46,82.67 L539.89,82.02 L541.32,81.39 L542.75,80.78 L544.18,80.20 L545.61,79.63 L547.04,79.09 L548.48,78.57 L549.91,78.06 L551.34,77.58 L552.77,77.12 L554.20,76.67 L555.63,76.24 L557.06,75.82 L558.49,75.42 L559.92,75.04 L561.35,74.67 L562.78,74.32 L564.22,73.98 L565.65,73.65 L567.08,73.34 L568.51,73.03 L569.94,72.74 L571.37,72.46 L572.80,72.19 L574.23,71.94 L575.66,71.69 L577.10,71.45 L578.53,71.22 L579.96,71.00 L581.39,70.79 L582.82,70.59 L584.25,70.39 L585.68,70.21 L587.11,70.03 L588.54,69.86 L589.97,69.69 L591.40,69.53 L592.84,69.38 L594.27,69.23 L595.70,69.09 L597.13,68.96 L598.56,68.83 L599.99,68.70 L601.42,68.59 L602.85,68.47 L604.28,68.36 L605.72,68.26 L607.15,68.16 L608.58,68.06 L610.01,67.97 L611.44,67.88 L612.87,67.79 L614.30,67.71 L615.73,67.63 L617.16,67.56 L618.59,67.48 L620.02,67.41 L621.46,67.35 L622.89,67.28 L624.32,67.22 L625.75,67.16 L627.18,67.11 L628.61,67.05 L630.04,67.00 L631.47,66.95 L632.90,66.90 L634.34,66.86 L635.77,66.81 L637.20,66.77 L638.63,66.73 L640.06,66.69 L641.49,66.66 L642.92,66.62 L644.35,66.59 L645.78,66.55 L647.21,66.52 L648.64,66.49 L650.08,66.46 L651.51,66.44 L652.94,66.41 L654.37,66.38 L655.80,66.36 L655.80,81.17 L654.37,81.63 L652.94,82.10 L651.51,82.58 L650.08,83.08 L648.64,83.59 L647.21,84.12 L645.78,84.66 L644.35,85.22 L642.92,85.79 L641.49,86.38 L640.06,86.98 L638.63,87.60 L637.20,88.24 L635.77,88.90 L634.34,89.58 L632.90,90.27 L631.47,90.98 L630.04,91.72 L628.61,92.47 L627.18,93.24 L625.75,94.04 L624.32,94.85 L622.89,95.69 L621.46,96.55 L620.02,97.43 L618.59,98.33 L617.16,99.26 L615.73,100.21 L614.30,101.19 L612.87,102.20 L611.44,103.22 L610.01,104.28 L608.58,105.36 L607.15,106.47 L605.72,107.60 L604.28,108.77 L602.85,109.96 L601.42,111.18 L599.99,112.43 L598.56,113.72 L597.13,115.03 L595.70,116.37 L594.27,117.75 L592.84,119.15 L591.40,120.59 L589.97,122.06 L588.54,123.56 L587.11,125.10 L585.68,126.67 L584.25,128.28 L582.82,129.92 L581.39,131.59 L579.96,133.30 L578.53,135.04 L577.10,136.82 L575.66,138.64 L574.23,140.49 L572.80,142.38 L571.37,144.30 L569.94,146.26 L568.51,148.26 L567.08,150.29 L565.65,152.36 L564.22,154.47 L562.78,156.61 L561.35,158.79 L559.92,161.00 L558.49,163.25 L557.06,165.53 L555.63,167.85 L554.20,170.20 L552.77,172.59 L551.34,175.01 L549.91,177.47 L548.48,179.96 L547.04,182.48 L545.61,185.03 L544.18,187.61 L542.75,190.23 L541.32,192.87 L539.89,195.54 L538.46,198.24 L537.03,200.96 L535.60,203.72 L534.17,206.49 L532.73,209.29 L531.30,212.11 L529.87,214.96 L528.44,217.82 L527.01,220.70 L525.58,223.60 L524.15,226.52 L522.72,229.45 L521.29,232.39 L519.86,235.35 L518.42,238.32 L516.99,241.30 L515.56,244.28 L514.13,247.27 L512.70,250.27 L511.27,253.27 L509.84,256.27 L508.41,259.27 L506.98,262.27 L505.55,265.26 L504.11,268.26 L502.68,271.24 L501.25,274.22 L499.82,277.19 L498.39,280.15 L496.96,283.10 L495.53,286.03 L494.10,288.95 L492.67,291.86 L491.24,294.74 L489.80,297.61 L488.37,300.45 L486.94,303.28 L485.51,306.08 L484.08,308.86 L482.65,311.61 L481.22,314.34 L479.79,317.03 L478.36,319.71 L476.93,322.35 L475.49,324.96 L474.06,327.54 L472.63,330.09 L471.20,332.60 L469.77,335.08 L468.34,337.53 L466.91,339.94 L465.48,342.32 L464.05,344.66 L462.62,346.97 L461.18,349.24 L459.75,351.47 L458.32,353.67 L456.89,355.83 L455.46,357.95 L454.03,360.03 L452.60,362.07 L451.17,364.08 L449.74,366.05 L448.31,367.98 L446.87,369.87 L445.44,371.72 L444.01,373.54 L442.58,375.32 L441.15,377.06 L439.72,378.76 L438.29,380.43 L436.86,382.06 L435.43,383.65 L434.00,385.20 L432.56,386.72 L431.13,388.21 L429.70,389.66 L428.27,391.07 L426.84,392.45 L425.41,393.80 L423.98,395.11 L422.55,396.39 L421.12,397.64 L419.69,398.86 L418.25,400.04 L416.82,401.20 L415.39,402.32 L413.96,403.41 L412.53,404.48 L411.10,405.51 L409.67,406.52 L408.24,407.50 L406.81,408.45 L405.38,409.38 L403.94,410.28 L402.51,411.15 L401.08,412.00 L399.65,412.82 L398.22,413.63 L396.79,414.40 L395.36,415.16 L393.93,415.89 L392.50,416.60 L391.07,417.29 L389.63,417.96 L388.20,418.61 L386.77,419.24 L385.34,419.84 L383.91,420.44 L382.48,421.01 L381.05,421.56 L379.62,422.10 L378.19,422.62 L376.75,423.12 L375.32,423.61 L373.89,424.09 L372.46,424.54 L371.03,424.99 L369.60,425.41 L368.17,425.83 L366.74,426.23 L365.31,426.62 L363.88,426.99 L362.45,427.36 L361.01,427.71 L359.58,428.05 L358.15,428.38 L356.72,428.69 L355.29,429.00 L353.86,429.30 L352.43,429.58 L351.00,429.86 L349.57,430.13 L348.13,430.38 L346.70,430.63 L345.27,430.87 L343.84,431.11 L342.41,431.33 L340.98,431.55 L339.55,431.76 L338.12,431.96 L336.69,432.15 L335.26,432.34 L333.83,432.52 L332.39,432.70 L330.96,432.87 L329.53,433.03 L328.10,433.19 L326.67,433.34 L325.24,433.49 L323.81,433.63 L322.38,433.76 L320.95,433.89 L319.51,434.02 L318.08,434.14 L316.65,434.26 L315.22,434.37 L313.79,434.48 L312.36,434.59 L310.93,434.69 L309.50,434.79 L308.07,434.88 L306.64,434.97 L305.21,435.06 L303.77,435.14 L302.34,435.22 L300.91,435.30 L299.48,435.38 L298.05,435.45 L296.62,435.52 L295.19,435.58 L293.76,435.65 L292.33,435.71 L290.89,435.77 L289.46,435.83 L288.03,435.88 L286.60,435.94 L285.17,435.99 L283.74,436.04 L282.31,436.09 L280.88,436.13 L279.45,436.17 L278.02,436.22 L276.59,436.26 L275.15,436.30 L273.72,436.33 L272.29,436.37 L270.86,436.41 L269.43,436.44 L268.00,436.47 L266.57,436.50 L265.14,436.53 L263.71,436.56 L262.27,436.59 L260.84,436.62 L259.41,436.64 L257.98,436.67 L256.55,436.69 L255.12,436.71 L253.69,436.73 L252.26,436.75 L250.83,436.77 L249.40,436.79 L247.97,436.81 L246.53,436.83 L245.10,436.85 L243.67,436.86 L242.24,436.88 L240.81,436.89 L239.38,436.91 L237.95,436.92 L236.52,436.94 L235.09,436.95 L233.66,436.96 L232.22,436.97 L230.79,436.99 L229.36,437.00 L227.93,437.01 L226.50,437.02 L225.07,437.03 L223.64,437.04 L222.21,437.05 L220.78,437.05 L219.34,437.06 L217.91,437.07 L216.48,437.08 L215.05,437.09 L213.62,437.09 L212.19,437.10 L210.76,437.11 L209.33,437.11 L207.90,437.12 L206.47,437.12 L205.04,437.13 L203.60,437.13 L202.17,437.14 L200.74,437.14 L199.31,437.15 L197.88,437.15 L196.45,437.16 L195.02,437.16 L193.59,437.17 L192.16,437.17 L190.73,437.17 L189.29,437.18 L187.86,437.18 L186.43,437.18 L185.00,437.19 L183.57,437.19 L182.14,437.19 L180.71,437.20 L179.28,437.20 L177.85,437.20 L176.42,437.20 L174.98,437.21 L173.55,437.21 L172.12,437.21 L170.69,437.21 L169.26,437.21 L167.83,437.22 L166.40,437.22 L164.97,437.22 L163.54,437.22 L162.11,437.22 L160.67,437.22 L159.24,437.23 L157.81,437.23 L156.38,437.23 L154.95,437.23 L153.52,437.23 L152.09,437.23 L150.66,437.23 L149.23,437.23 L147.80,437.24 L146.36,437.24 L144.93,437.24 L143.50,437.24 L142.07,437.24 L140.64,437.24 L139.21,437.24 L137.78,437.24 L136.35,437.24 L134.92,437.24 L133.49,437.24 L132.05,437.24 L130.62,437.25 L129.19,437.25 L127.76,437.25 L126.33,437.25 L124.90,437.25 L123.47,437.25 L122.04,437.25 L120.61,437.25 L119.18,437.25 L117.74,437.25 L116.31,437.25 L114.88,437.25 L113.45,437.25 L112.02,437.25 L110.59,437.25 L109.16,437.25 L107.73,437.25 L106.30,437.25 L104.87,437.25 L103.43,437.25 L102.00,437.25 L100.57,437.25 L99.14,437.25 L97.71,437.25 L96.28,437.25 L94.85,437.25 L93.42,437.26 L91.99,437.26 L90.56,437.26 L89.12,437.26 L87.69,437.26 L86.26,437.26 L84.83,437.26 L83.40,437.26Z" fill="#7CAE00" fill-opacity="0.1" stroke="none"/>
<path d="M83.40,437.15 L84.83,437.15 L86.26,437.14 L87.69,437.14 L89.12,437.13 L90.56,437.13 L91.99,437.13 L93.42,437.12 L94.85,437.12 L96.28,437.11 L97.71,437.11 L99.14,437.10 L100.57,437.10 L102.00,437.09 L103.43,437.09 L104.87,437.08 L106.30,437.08 L107.73,437.07 L109.16,437.07 L110.59,437.06 L112.02,437.05 L113.45,437.05 L114.88,437.04 L116.31,437.04 L117.74,437.03 L119.18,437.02 L120.61,437.01 L122.04,437.01 L123.47,437.00 L124.90,436.99 L126.33,436.98 L127.76,436.97 L129.19,436.96 L130.62,436.95 L132.05,436.94 L133.49,436.93 L134.92,436.92 L136.35,436.91 L137.78,436.90 L139.21,436.89 L140.64,436.88 L142.07,436.87 L143.50,436.86 L144.93,436.84 L146.36,436.83 L147.80,436.82 L149.23,436.80 L150.66,436.79 L152.09,436.77 L153.52,436.76 L154.95,436.74 L156.38,436.73 L157.81,436.71 L159.24,436.69 L160.67,436.67 L162.11,436.65 L163.54,436.64 L164.97,436.62 L166.40,436.60 L167.83,436.57 L169.26,436.55 L170.69,436.53 L172.12,436.51 L173.55,436.48 L174.98,436.46 L176.42,436.43 L177.85,436.41 L179.28,436.38 L180.71,436.35 L182.14,436.32 L183.57,436.29 L185.00,436.26 L186.43,436.23 L187.86,436.20 L189.29,436.16 L190.73,436.13 L192.16,436.09 L193.59,436.05 L195.02,436.02 L196.45,435.98 L197.88,435.93 L199.31,435.89 L200.74,435.85 L202.17,435.80 L203.60,435.76 L205.04,435.71 L206.47,435.66 L207.90,435.61 L209.33,435.55 L210.76,435.50 L212.19,435.44 L213.62,435.38 L215.05,435.32 L216.48,435.26 L217.91,435.19 L219.34,435.13 L220.78,435.06 L222.21,434.99 L223.64,434.91 L225.07,434.84 L226.50,434.76 L227.93,434.68 L229.36,434.59 L230.79,434.51 L232.22,434.42 L233.66,434.33 L235.09,434.23 L236.52,434.13 L237.95,434.03 L239.38,433.92 L240.81,433.82 L242.24,433.70 L243.67,433.59 L245.10,433.47 L246.53,433.34 L247.97,433.22 L249.40,433.08 L250.83,432.95 L252.26,432.80 L253.69,432.66 L255.12,432.51 L256.55,432.35 L257.98,432.19 L259.41,432.02 L260.84,431.85 L262.27,431.67 L263.71,431.49 L265.14,431.30 L266.57,431.10 L268.00,430.90 L269.43,430.69 L270.86,430.47 L272.29,430.25 L273.72,430.01 L275.15,429.77 L276.59,429.53 L278.02,429.27 L279.45,429.01 L280.88,428.73 L282.31,428.45 L283.74,428.16 L285.17,427.86 L286.60,427.54 L288.03,427.22 L289.46,426.89 L290.89,426.54 L292.33,426.19 L293.76,425.82 L295.19,425.44 L296.62,425.04 L298.05,424.64 L299.48,424.22 L300.91,423.78 L302.34,423.33 L303.77,422.87 L305.21,422.39 L306.64,421.90 L308.07,421.39 L309.50,420.86 L310.93,420.31 L312.36,419.75 L313.79,419.17 L315.22,418.56 L316.65,417.94 L318.08,417.30 L319.51,416.64 L320.95,415.95 L322.38,415.25 L323.81,414.52 L325.24,413.76 L326.67,412.98 L328.10,412.18 L329.53,411.35 L330.96,410.50 L332.39,409.61 L333.83,408.70 L335.26,407.76 L336.69,406.79 L338.12,405.79 L339.55,404.76 L340.98,403.70 L342.41,402.60 L343.84,401.47 L345.27,400.31 L346.70,399.11 L348.13,397.87 L349.57,396.60 L351.00,395.29 L352.43,393.94 L353.86,392.55 L355.29,391.12 L356.72,389.65 L358.15,388.13 L359.58,386.58 L361.01,384.97 L362.45,383.33 L363.88,381.64 L365.31,379.90 L366.74,378.12 L368.17,376.29 L369.60,374.41 L371.03,372.48 L372.46,370.50 L373.89,368.47 L375.32,366.39 L376.75,364.27 L378.19,362.09 L379.62,359.85 L381.05,357.57 L382.48,355.23 L383.91,352.84 L385.34,350.40 L386.77,347.91 L388.20,345.36 L389.63,342.77 L391.07,340.12 L392.50,337.42 L393.93,334.66 L395.36,331.86 L396.79,329.01 L398.22,326.11 L399.65,323.15 L401.08,320.16 L402.51,317.11 L403.94,314.02 L405.38,310.89 L406.81,307.71 L408.24,304.50 L409.67,301.24 L411.10,297.95 L412.53,294.61 L413.96,291.25 L415.39,287.85 L416.82,284.43 L418.25,280.97 L419.69,277.49 L421.12,273.99 L422.55,270.46 L423.98,266.92 L425.41,263.36 L426.84,259.78 L428.27,256.20 L429.70,252.61 L431.13,249.01 L432.56,245.41 L434.00,241.81 L435.43,238.22 L436.86,234.63 L438.29,231.04 L439.72,227.47 L441.15,223.91 L442.58,220.37 L444.01,216.85 L445.44,213.35 L446.87,209.87 L448.31,206.42 L449.74,203.00 L451.17,199.61 L452.60,196.26 L454.03,192.94 L455.46,189.65 L456.89,186.41 L458.32,183.21 L459.75,180.05 L461.18,176.93 L462.62,173.86 L464.05,170.84 L465.48,167.87 L466.91,164.95 L468.34,162.07 L469.77,159.25 L471.20,156.49 L472.63,153.77 L474.06,151.11 L475.49,148.51 L476.93,145.96 L478.36,143.46 L479.79,141.03 L481.22,138.64 L482.65,136.31 L484.08,134.04 L485.51,131.82 L486.94,129.66 L488.37,127.55 L489.80,125.50 L491.24,123.50 L492.67,121.55 L494.10,119.66 L495.53,117.82 L496.96,116.03 L498.39,114.29 L499.82,112.60 L501.25,110.96 L502.68,109.37 L504.11,107.83 L505.55,106.33 L506.98,104.88 L508.41,103.48 L509.84,102.12 L511.27,100.80 L512.70,99.52 L514.13,98.29 L515.56,97.09 L516.99,95.94 L518.42,94.82 L519.86,93.74 L521.29,92.70 L522.72,91.69 L524.15,90.72 L525.58,89.78 L527.01,88.87 L528.44,87.99 L529.87,87.15 L531.30,86.33 L532.73,85.55 L534.17,84.79 L535.60,84.06 L537.03,83.35 L538.46,82.67 L539.89,82.02 L541.32,81.39 L542.75,80.78 L544.18,80.20 L545.61,79.63 L547.04,79.09 L548.48,78.57 L549.91,78.06 L551.34,77.58 L552.77,77.12 L554.20,76.67 L555.63,76.24 L557.06,75.82 L558.49,75.42 L559.92,75.04 L561.35,74.67 L562.78,74.32 L564.22,73.98 L565.65,73.65 L567.08,73.34 L568.51,73.03 L569.94,72.74 L571.37,72.46 L572.80,72.19 L574.23,71.94 L575.66,71.69 L577.10,71.45 L578.53,71.22 L579.96,71.00 L581.39,70.79 L582.82,70.59 L584.25,70.39 L585.68,70.21 L587.11,70.03 L588.54,69.86 L589.97,69.69 L591.40,69.53 L592.84,69.38 L594.27,69.23 L595.70,69.09 L597.13,68.96 L598.56,68.83 L599.99,68.70 L601.42,68.59 L602.85,68.47 L604.28,68.36 L605.72,68.26 L607.15,68.16 L608.58,68.06 L610.01,67.97 L611.44,67.88 L612.87,67.79 L614.30,67.71 L615.73,67.63 L617.16,67.56 L618.59,67.48 L620.02,67.41 L621.46,67.35 L622.89,67.28 L624.32,67.22 L625.75,67.16 L627.18,67.11 L628.61,67.05 L630.04,67.00 L631.47,66.95 L632.90,66.90 L634.34,66.86 L635.77,66.81 L637.20,66.77 L638.63,66.73 L640.06,66.69 L641.49,66.66 L642.92,66.62 L644.35,66.59 L645.78,66.55 L647.21,66.52 L648.64,66.49 L650.08,66.46 L651.51,66.44 L652.94,66.41 L654.37,66.38 L655.80,66.36" fill="none" stroke="#7CAE00" stroke-width="1.45" stroke-dasharray="1.45 3.75"/>
<path d="M83.40,437.26 L84.83,437.26 L86.26,437.26 L87.69,437.26 L89.12,437.26 L90.56,437.26 L91.99,437.26 L93.42,437.26 L94.85,437.25 L96.28,437.25 L97.71,437.25 L99.14,437.25 L100.57,437.25 L102.00,437.25 L103.43,437.25 L104.87,437.25 L106.30,437.25 L107.73,437.25 L109.16,437.25 L110.59,437.25 L112.02,437.25 L113.45,437.25 L114.88,437.25 L116.31,437.25 L117.74,437.25 L119.18,437.25 L120.61,437.25 L122.04,437.25 L123.47,437.25 L124.90,437.25 L126.33,437.25 L127.76,437.25 L129.19,437.25 L130.62,437.25 L132.05,437.24 L133.49,437.24 L134.92,437.24 L136.35,437.24 L137.78,437.24 L139.21,437.24 L140.64,437.24 L142.07,437.24 L143.50,437.24 L144.93,437.24 L146.36,437.24 L147.80,437.24 L149.23,437.23 L150.66,437.23 L152.09,437.23 L153.52,437.23 L154.95,437.23 L156.38,437.23 L157.81,437.23 L159.24,437.23 L160.67,437.22 L162.11,437.22 L163.54,437.22 L164.97,437.22 L166.40,437.22 L167.83,437.22 L169.26,437.21 L170.69,437.21 L172.12,437.21 L173.55,437.21 L174.98,437.21 L176.42,437.20 L177.85,437.20 L179.28,437.20 L180.71,437.20 L182.14,437.19 L183.57,437.19 L185.00,437.19 L186.43,437.18 L187.86,437.18 L189.29,437.18 L190.73,437.17 L192.16,437.17 L193.59,437.17 L195.02,437.16 L196.45,437.16 L197.88,437.15 L199.31,437.15 L200.74,437.14 L202.17,437.14 L203.60,437.13 L205.04,437.13 L206.47,437.12 L207.90,437.12 L209.33,437.11 L210.76,437.11 L212.19,437.10 L213.62,437.09 L215.05,437.09 L216.48,437.08 L217.91,437.07 L219.34,437.06 L220.78,437.05 L222.21,437.05 L223.64,437.04 L225.07,437.03 L226.50,437.02 L227.93,437.01 L229.36,437.00 L230.79,436.99 L232.22,436.97 L233.66,436.96 L235.09,436.95 L236.52,436.94 L237.95,436.92 L239.38,436.91 L240.81,436.89 L242.24,436.88 L243.67,436.86 L245.10,436.85 L246.53,436.83 L247.97,436.81 L249.40,436.79 L250.83,436.77 L252.26,436.75 L253.69,436.73 L255.12,436.71 L256.55,436.69 L257.98,436.67 L259.41,436.64 L260.84,436.62 L262.27,436.59 L263.71,436.56 L265.14,436.53 L266.57,436.50 L268.00,436.47 L269.43,436.44 L270.86,436.41 L272.29,436.37 L273.72,436.33 L275.15,436.30 L276.59,436.26 L278.02,436.22 L279.45,436.17 L280.88,436.13 L282.31,436.09 L283.74,436.04 L285.17,435.99 L286.60,435.94 L288.03,435.88 L289.46,435.83 L290.89,435.77 L292.33,435.71 L293.76,435.65 L295.19,435.58 L296.62,435.52 L298.05,435.45 L299.48,435.38 L300.91,435.30 L302.34,435.22 L303.77,435.14 L305.21,435.06 L306.64,434.97 L308.07,434.88 L309.50,434.79 L310.93,434.69 L312.36,434.59 L313.79,434.48 L315.22,434.37 L316.65,434.26 L318.08,434.14 L319.51,434.02 L320.95,433.89 L322.38,433.76 L323.81,433.63 L325.24,433.49 L326.67,433.34 L328.10,433.19 L329.53,433.03 L330.96,432.87 L332.39,432.70 L333.83,432.52 L335.26,432.34 L336.69,432.15 L338.12,431.96 L339.55,431.76 L340.98,431.55 L342.41,431.33 L343.84,431.11 L345.27,430.87 L346.70,430.63 L348.13,430.38 L349.57,430.13 L351.00,429.86 L352.43,429.58 L353.86,429.30 L355.29,429.00 L356.72,428.69 L358.15,428.38 L359.58,428.05 L361.01,427.71 L362.45,427.36 L363.88,426.99 L365.31,426.62 L366.74,426.23 L368.17,425.83 L369.60,425.41 L371.03,424.99 L372.46,424.54 L373.89,424.09 L375.32,423.61 L376.75,423.12 L378.19,422.62 L379.62,422.10 L381.05,421.56 L382.48,421.01 L383.91,420.44 L385.34,419.84 L386.77,419.24 L388.20,418.61 L389.63,417.96 L391.07,417.29 L392.50,416.60 L393.93,415.89 L395.36,415.16 L396.79,414.40 L398.22,413.63 L399.65,412.82 L401.08,412.00 L402.51,411.15 L403.94,410.28 L405.38,409.38 L406.81,408.45 L408.24,407.50 L409.67,406.52 L411.10,405.51 L412.53,404.48 L413.96,403.41 L415.39,402.32 L416.82,401.20 L418.25,400.04 L419.69,398.86 L421.12,397.64 L422.55,396.39 L423.98,395.11 L425.41,393.80 L426.84,392.45 L428.27,391.07 L429.70,389.66 L431.13,388.21 L432.56,386.72 L434.00,385.20 L435.43,383.65 L436.86,382.06 L438.29,380.43 L439.72,378.76 L441.15,377.06 L442.58,375.32 L444.01,373.54 L445.44,371.72 L446.87,369.87 L448.31,367.98 L449.74,366.05 L451.17,364.08 L452.60,362.07 L454.03,360.03 L455.46,357.95 L456.89,355.83 L458.32,353.67 L459.75,351.47 L461.18,349.24 L462.62,346.97 L464.05,344.66 L465.48,342.32 L466.91,339.94 L468.34,337.53 L469.77,335.08 L471.20,332.60 L472.63,330.09 L474.06,327.54 L475.49,324.96 L476.93,322.35 L478.36,319.71 L479.79,317.03 L481.22,314.34 L482.65,311.61 L484.08,308.86 L485.51,306.08 L486.94,303.28 L488.37,300.45 L489.80,297.61 L491.24,294.74 L492.67,291.86 L494.10,288.95 L495.53,286.03 L496.96,283.10 L498.39,280.15 L499.82,277.19 L501.25,274.22 L502.68,271.24 L504.11,268.26 L505.55,265.26 L506.98,262.27 L508.41,259.27 L509.84,256.27 L511.27,253.27 L512.70,250.27 L514.13,247.27 L515.56,244.28 L516.99,241.30 L518.42,238.32 L519.86,235.35 L521.29,232.39 L522.72,229.45 L524.15,226.52 L525.58,223.60 L527.01,220.70 L528.44,217.82 L529.87,214.96 L531.30,212.11 L532.73,209.29 L534.17,206.49 L535.60,203.72 L537.03,200.96 L538.46,198.24 L539.89,195.54 L541.32,192.87 L542.75,190.23 L544.18,187.61 L545.61,185.03 L547.04,182.48 L548.48,179.96 L549.91,177.47 L551.34,175.01 L552.77,172.59 L554.20,170.20 L555.63,167.85 L557.06,165.53 L558.49,163.25 L559.92,161.00 L561.35,158.79 L562.78,156.61 L564.22,154.47 L565.65,152.36 L567.08,150.29 L568.51,148.26 L569.94,146.26 L571.37,144.30 L572.80,142.38 L574.23,140.49 L575.66,138.64 L577.10,136.82 L578.53,135.04 L579.96,133.30 L581.39,131.59 L582.82,129.92 L584.25,128.28 L585.68,126.67 L587.11,125.10 L588.54,123.56 L589.97,122.06 L591.40,120.59 L592.84,119.15 L594.27,117.75 L595.70,116.37 L597.13,115.03 L598.56,113.72 L599.99,112.43 L601.42,111.18 L602.85,109.96 L604.28,108.77 L605.72,107.60 L607.15,106.47 L608.58,105.36 L610.01,104.28 L611.44,103.22 L612.87,102.20 L614.30,101.19 L615.73,100.21 L617.16,99.26 L618.59,98.33 L620.02,97.43 L621.46,96.55 L622.89,95.69 L624.32,94.85 L625.75,94.04 L627.18,93.24 L628.61,92.47 L630.04,91.72 L631.47,90.98 L632.90,90.27 L634.34,89.58 L635.77,88.90 L637.20,88.24 L638.63,87.60 L640.06,86.98 L641.49,86.38 L642.92,85.79 L644.35,85.22 L645.78,84.66 L647.21,84.12 L648.64,83.59 L650.08,83.08 L651.51,82.58 L652.94,82.10 L654.37,81.63 L655.80,81.17" fill="none" stroke="#7CAE00" stroke-width="1.45" stroke-dasharray="1.45 3.75"/>
<path d="M83.40,437.17 L84.83,437.16 L86.26,437.16 L87.69,437.15 L89.12,437.15 L90.56,437.14 L91.99,437.14 L93.42,437.13 L94.85,437.13 L96.28,437.12 L97.71,437.11 L99.14,437.11 L100.57,437.10 L102.00,437.09 L103.43,437.08 L104.87,437.07 L106.30,437.06 L107.73,437.05 L109.16,437.04 L110.59,437.03 L112.02,437.02 L113.45,437.01 L114.88,437.00 L116.31,436.99 L117.74,436.97 L119.18,436.96 L120.61,436.95 L122.04,436.93 L123.47,436.91 L124.90,436.90 L126.33,436.88 L127.76,436.86 L129.19,436.84 L130.62,436.82 L132.05,436.80 L133.49,436.78 L134.92,436.76 L136.35,436.73 L137.78,436.71 L139.21,436.68 L140.64,436.65 L142.07,436.62 L143.50,436.59 L144.93,436.56 L146.36,436.52 L147.80,436.49 L149.23,436.45 L150.66,436.41 L152.09,436.37 L153.52,436.33 L154.95,436.28 L156.38,436.23 L157.81,436.18 L159.24,436.13 L160.67,436.07 L162.11,436.02 L163.54,435.96 L164.97,435.89 L166.40,435.83 L167.83,435.76 L169.26,435.68 L170.69,435.60 L172.12,435.52 L173.55,435.44 L174.98,435.35 L176.42,435.26 L177.85,435.16 L179.28,435.05 L180.71,434.95 L182.14,434.83 L183.57,434.71 L185.00,434.59 L186.43,434.46 L187.86,434.32 L189.29,434.17 L190.73,434.02 L192.16,433.86 L193.59,433.70 L195.02,433.52 L196.45,433.34 L197.88,433.14 L199.31,432.94 L200.74,432.73 L202.17,432.51 L203.60,432.27 L205.04,432.03 L206.47,431.77 L207.90,431.50 L209.33,431.21 L210.76,430.92 L212.19,430.60 L213.62,430.28 L215.05,429.93 L216.48,429.57 L217.91,429.19 L219.34,428.80 L220.78,428.38 L222.21,427.94 L223.64,427.49 L225.07,427.01 L226.50,426.50 L227.93,425.97 L229.36,425.42 L230.79,424.84 L232.22,424.23 L233.66,423.60 L235.09,422.93 L236.52,422.23 L237.95,421.49 L239.38,420.73 L240.81,419.92 L242.24,419.08 L243.67,418.20 L245.10,417.27 L246.53,416.31 L247.97,415.30 L249.40,414.24 L250.83,413.13 L252.26,411.98 L253.69,410.77 L255.12,409.50 L256.55,408.18 L257.98,406.80 L259.41,405.36 L260.84,403.86 L262.27,402.29 L263.71,400.65 L265.14,398.95 L266.57,397.17 L268.00,395.32 L269.43,393.39 L270.86,391.38 L272.29,389.30 L273.72,387.13 L275.15,384.87 L276.59,382.53 L278.02,380.10 L279.45,377.58 L280.88,374.96 L282.31,372.25 L283.74,369.45 L285.17,366.55 L286.60,363.56 L288.03,360.46 L289.46,357.27 L290.89,353.97 L292.33,350.58 L293.76,347.09 L295.19,343.50 L296.62,339.81 L298.05,336.03 L299.48,332.14 L300.91,328.17 L302.34,324.11 L303.77,319.95 L305.21,315.71 L306.64,311.39 L308.07,306.99 L309.50,302.51 L310.93,297.96 L312.36,293.35 L313.79,288.67 L315.22,283.94 L316.65,279.16 L318.08,274.34 L319.51,269.48 L320.95,264.59 L322.38,259.67 L323.81,254.74 L325.24,249.80 L326.67,244.85 L328.10,239.91 L329.53,234.98 L330.96,230.06 L332.39,225.17 L333.83,220.31 L335.26,215.49 L336.69,210.71 L338.12,205.99 L339.55,201.32 L340.98,196.71 L342.41,192.17 L343.84,187.70 L345.27,183.31 L346.70,179.00 L348.13,174.78 L349.57,170.64 L351.00,166.60 L352.43,162.65 L353.86,158.80 L355.29,155.05 L356.72,151.40 L358.15,147.85 L359.58,144.41 L361.01,141.07 L362.45,137.83 L363.88,134.69 L365.31,131.66 L366.74,128.73 L368.17,125.91 L369.60,123.18 L371.03,120.55 L372.46,118.02 L373.89,115.59 L375.32,113.25 L376.75,111.01 L378.19,108.85 L379.62,106.78 L381.05,104.80 L382.48,102.90 L383.91,101.08 L385.34,99.34 L386.77,97.68 L388.20,96.09 L389.63,94.57 L391.07,93.12 L392.50,91.74 L393.93,90.42 L395.36,89.16 L396.79,87.96 L398.22,86.82 L399.65,85.73 L401.08,84.69 L402.51,83.71 L403.94,82.77 L405.38,81.88 L406.81,81.04 L408.24,80.23 L409.67,79.47 L411.10,78.74 L412.53,78.05 L413.96,77.40 L415.39,76.78 L416.82,76.19 L418.25,75.63 L419.69,75.10 L421.12,74.60 L422.55,74.12 L423.98,73.67 L425.41,73.25 L426.84,72.84 L428.27,72.46 L429.70,72.09 L431.13,71.75 L432.56,71.42 L434.00,71.12 L435.43,70.82 L436.86,70.55 L438.29,70.29 L439.72,70.04 L441.15,69.81 L442.58,69.58 L444.01,69.37 L445.44,69.18 L446.87,68.99 L448.31,68.81 L449.74,68.65 L451.17,68.49 L452.60,68.34 L454.03,68.20 L455.46,68.06 L456.89,67.94 L458.32,67.82 L459.75,67.70 L461.18,67.60 L462.62,67.50 L464.05,67.40 L465.48,67.31 L466.91,67.23 L468.34,67.15 L469.77,67.07 L471.20,67.00 L472.63,66.93 L474.06,66.87 L475.49,66.81 L476.93,66.75 L478.36,66.70 L479.79,66.65 L481.22,66.60 L482.65,66.56 L484.08,66.51 L485.51,66.47 L486.94,66.43 L488.37,66.40 L489.80,66.36 L491.24,66.33 L492.67,66.30 L494.10,66.27 L495.53,66.25 L496.96,66.22 L498.39,66.20 L499.82,66.18 L501.25,66.15 L502.68,66.13 L504.11,66.11 L505.55,66.10 L506.98,66.08 L508.41,66.06 L509.84,66.05 L511.27,66.04 L512.70,66.02 L514.13,66.01 L515.56,66.00 L516.99,65.99 L518.42,65.98 L519.86,65.97 L521.29,65.96 L522.72,65.95 L524.15,65.94 L525.58,65.93 L527.01,65.92 L528.44,65.92 L529.87,65.91 L531.30,65.90 L532.73,65.90 L534.17,65.89 L535.60,65.89 L537.03,65.88 L538.46,65.88 L539.89,65.87 L541.32,65.87 L542.75,65.86 L544.18,65.86 L545.61,65.86 L547.04,65.85 L548.48,65.85 L549.91,65.85 L551.34,65.85 L552.77,65.84 L554.20,65.84 L555.63,65.84 L557.06,65.84 L558.49,65.83 L559.92,65.83 L561.35,65.83 L562.78,65.83 L564.22,65.83 L565.65,65.83 L567.08,65.82 L568.51,65.82 L569.94,65.82 L571.37,65.82 L572.80,65.82 L574.23,65.82 L575.66,65.82 L577.10,65.82 L578.53,65.81 L579.96,65.81 L581.39,65.81 L582.82,65.81 L584.25,65.81 L585.68,65.81 L587.11,65.81 L588.54,65.81 L589.97,65.81 L591.40,65.81 L592.84,65.81 L594.27,65.81 L595.70,65.81 L597.13,65.81 L598.56,65.81 L599.99,65.81 L601.42,65.81 L602.85,65.81 L604.28,65.81 L605.72,65.80 L607.15,65.80 L608.58,65.80 L610.01,65.80 L611.44,65.80 L612.87,65.80 L614.30,65.80 L615.73,65.80 L617.16,65.80 L618.59,65.80 L620.02,65.80 L621.46,65.80 L622.89,65.80 L624.32,65.80 L625.75,65.80 L627.18,65.80 L628.61,65.80 L630.04,65.80 L631.47,65.80 L632.90,65.80 L634.34,65.80 L635.77,65.80 L637.20,65.80 L638.63,65.80 L640.06,65.80 L641.49,65.80 L642.92,65.80 L644.35,65.80 L645.78,65.80 L647.21,65.80 L648.64,65.80 L650.08,65.80 L651.51,65.80 L652.94,65.80 L654.37,65.80 L655.80,65.80 L655.80,65.83 L654.37,65.83 L652.94,65.83 L651.51,65.83 L650.08,65.84 L648.64,65.84 L647.21,65.84 L645.78,65.84 L644.35,65.84 L642.92,65.84 L641.49,65.85 L640.06,65.85 L638.63,65.85 L637.20,65.85 L635.77,65.86 L634.34,65.86 L632.90,65.86 L631.47,65.86 L630.04,65.87 L628.61,65.87 L627.18,65.87 L625.75,65.88 L624.32,65.88 L622.89,65.89 L621.46,65.89 L620.02,65.89 L618.59,65.90 L617.16,65.90 L615.73,65.91 L614.30,65.91 L612.87,65.92 L611.44,65.92 L610.01,65.93 L608.58,65.94 L607.15,65.94 L605.72,65.95 L604.28,65.96 L602.85,65.96 L601.42,65.97 L599.99,65.98 L598.56,65.99 L597.13,66.00 L595.70,66.01 L594.27,66.02 L592.84,66.03 L591.40,66.04 L589.97,66.05 L588.54,66.06 L587.11,66.07 L585.68,66.09 L584.25,66.10 L582.82,66.11 L581.39,66.13 L579.96,66.15 L578.53,66.16 L577.10,66.18 L575.66,66.20 L574.23,66.22 L572.80,66.24 L571.37,66.26 L569.94,66.28 L568.51,66.30 L567.08,66.33 L565.65,66.35 L564.22,66.38 L562.78,66.41 L561.35,66.43 L559.92,66.46 L558.49,66.50 L557.06,66.53 L555.63,66.56 L554.20,66.60 L552.77,66.64 L551.34,66.68 L549.91,66.72 L548.48,66.77 L547.04,66.81 L545.61,66.86 L544.18,66.91 L542.75,66.96 L541.32,67.02 L539.89,67.08 L538.46,67.14 L537.03,67.20 L535.60,67.27 L534.17,67.34 L532.73,67.42 L531.30,67.49 L529.87,67.58 L528.44,67.66 L527.01,67.75 L525.58,67.84 L524.15,67.94 L522.72,68.05 L521.29,68.15 L519.86,68.27 L518.42,68.38 L516.99,68.51 L515.56,68.64 L514.13,68.78 L512.70,68.92 L511.27,69.07 L509.84,69.22 L508.41,69.39 L506.98,69.56 L505.55,69.74 L504.11,69.93 L502.68,70.13 L501.25,70.34 L499.82,70.56 L498.39,70.78 L496.96,71.02 L495.53,71.27 L494.10,71.54 L492.67,71.81 L491.24,72.10 L489.80,72.40 L488.37,72.72 L486.94,73.05 L485.51,73.39 L484.08,73.76 L482.65,74.14 L481.22,74.54 L479.79,74.95 L478.36,75.39 L476.93,75.85 L475.49,76.32 L474.06,76.82 L472.63,77.35 L471.20,77.90 L469.77,78.47 L468.34,79.07 L466.91,79.70 L465.48,80.36 L464.05,81.04 L462.62,81.76 L461.18,82.51 L459.75,83.30 L458.32,84.12 L456.89,84.98 L455.46,85.87 L454.03,86.81 L452.60,87.79 L451.17,88.81 L449.74,89.87 L448.31,90.98 L446.87,92.15 L445.44,93.36 L444.01,94.62 L442.58,95.93 L441.15,97.30 L439.72,98.73 L438.29,100.22 L436.86,101.77 L435.43,103.38 L434.00,105.06 L432.56,106.81 L431.13,108.62 L429.70,110.50 L428.27,112.46 L426.84,114.49 L425.41,116.60 L423.98,118.78 L422.55,121.05 L421.12,123.39 L419.69,125.82 L418.25,128.34 L416.82,130.93 L415.39,133.62 L413.96,136.39 L412.53,139.25 L411.10,142.20 L409.67,145.24 L408.24,148.37 L406.81,151.59 L405.38,154.90 L403.94,158.30 L402.51,161.79 L401.08,165.36 L399.65,169.02 L398.22,172.77 L396.79,176.60 L395.36,180.51 L393.93,184.51 L392.50,188.57 L391.07,192.72 L389.63,196.93 L388.20,201.21 L386.77,205.55 L385.34,209.95 L383.91,214.40 L382.48,218.90 L381.05,223.45 L379.62,228.04 L378.19,232.66 L376.75,237.31 L375.32,241.99 L373.89,246.68 L372.46,251.38 L371.03,256.09 L369.60,260.80 L368.17,265.50 L366.74,270.18 L365.31,274.85 L363.88,279.50 L362.45,284.11 L361.01,288.69 L359.58,293.23 L358.15,297.72 L356.72,302.16 L355.29,306.54 L353.86,310.86 L352.43,315.11 L351.00,319.30 L349.57,323.41 L348.13,327.45 L346.70,331.41 L345.27,335.28 L343.84,339.07 L342.41,342.77 L340.98,346.38 L339.55,349.91 L338.12,353.34 L336.69,356.68 L335.26,359.92 L333.83,363.08 L332.39,366.13 L330.96,369.10 L329.53,371.97 L328.10,374.75 L326.67,377.43 L325.24,380.03 L323.81,382.54 L322.38,384.95 L320.95,387.28 L319.51,389.53 L318.08,391.69 L316.65,393.77 L315.22,395.77 L313.79,397.69 L312.36,399.53 L310.93,401.30 L309.50,402.99 L308.07,404.62 L306.64,406.18 L305.21,407.67 L303.77,409.10 L302.34,410.46 L300.91,411.77 L299.48,413.02 L298.05,414.21 L296.62,415.35 L295.19,416.44 L293.76,417.47 L292.33,418.46 L290.89,419.41 L289.46,420.31 L288.03,421.16 L286.60,421.98 L285.17,422.76 L283.74,423.50 L282.31,424.20 L280.88,424.87 L279.45,425.51 L278.02,426.12 L276.59,426.70 L275.15,427.24 L273.72,427.77 L272.29,428.26 L270.86,428.73 L269.43,429.18 L268.00,429.60 L266.57,430.01 L265.14,430.39 L263.71,430.75 L262.27,431.10 L260.84,431.42 L259.41,431.73 L257.98,432.03 L256.55,432.31 L255.12,432.57 L253.69,432.82 L252.26,433.06 L250.83,433.29 L249.40,433.50 L247.97,433.70 L246.53,433.89 L245.10,434.08 L243.67,434.25 L242.24,434.41 L240.81,434.57 L239.38,434.71 L237.95,434.85 L236.52,434.98 L235.09,435.10 L233.66,435.22 L232.22,435.33 L230.79,435.44 L229.36,435.54 L227.93,435.63 L226.50,435.72 L225.07,435.81 L223.64,435.89 L222.21,435.96 L220.78,436.03 L219.34,436.10 L217.91,436.16 L216.48,436.22 L215.05,436.28 L213.62,436.34 L212.19,436.39 L210.76,436.44 L209.33,436.48 L207.90,436.52 L206.47,436.56 L205.04,436.60 L203.60,436.64 L202.17,436.67 L200.74,436.71 L199.31,436.74 L197.88,436.77 L196.45,436.79 L195.02,436.82 L193.59,436.84 L192.16,436.87 L190.73,436.89 L189.29,436.91 L187.86,436.93 L186.43,436.95 L185.00,436.97 L183.57,436.98 L182.14,437.00 L180.71,437.01 L179.28,437.03 L177.85,437.04 L176.42,437.05 L174.98,437.06 L173.55,437.07 L172.12,437.09 L170.69,437.09 L169.26,437.10 L167.83,437.11 L166.40,437.12 L164.97,437.13 L163.54,437.14 L162.11,437.14 L160.67,437.15 L159.24,437.16 L157.81,437.16 L156.38,437.17 L154.95,437.17 L153.52,437.18 L152.09,437.18 L150.66,437.19 L149.23,437.19 L147.80,437.19 L146.36,437.20 L144.93,437.20 L143.50,437.21 L142.07,437.21 L140.64,437.21 L139.21,437.21 L137.78,437.22 L136.35,437.22 L134.92,437.22 L133.49,437.22 L132.05,437.23 L130.62,437.23 L129.19,437.23 L127.76,437.23 L126.33,437.23 L124.90,437.23 L123.47,437.24 L122.04,437.24 L120.61,437.24 L119.18,437.24 L117.74,437.24 L116.31,437.24 L114.88,437.24 L113.45,437.24 L112.02,437.24 L110.59,437.25 L109.16,437.25 L107.73,437.25 L106.30,437.25 L104.87,437.25 L103.43,437.25 L102.00,437.25 L100.57,437.25 L99.14,437.25 L97.71,437.25 L96.28,437.25 L94.85,437.25 L93.42,437.25 L91.99,437.25 L90.56,437.25 L89.12,437.25 L87.69,437.25 L86.26,437.25 L84.83,437.26 L83.40,437.26Z" fill="#00BFC4" fill-opacity="0.1" stroke="none"/>
<path d="M83.40,437.17 L84.83,437.16 L86.26,437.16 L87.69,437.15 L89.12,437.15 L90.56,437.14 L91.99,437.14 L93.42,437.13 L94.85,437.13 L96.28,437.12 L97.71,437.11 L99.14,437.11 L100.57,437.10 L102.00,437.09 L103.43,437.08 L104.87,437.07 L106.30,437.06 L107.73,437.05 L109.16,437.04 L110.59,437.03 L112.02,437.02 L113.45,437.01 L114.88,437.00 L116.31,436.99 L117.74,436.97 L119.18,436.96 L120.61,436.95 L122.04,436.93 L123.47,436.91 L124.90,436.90 L126.33,436.88 L127.76,436.86 L129.19,436.84 L130.62,436.82 L132.05,436.80 L133.49,436.78 L134.92,436.76 L136.35,436.73 L137.78,436.71 L139.21,436.68 L140.64,436.65 L142.07,436.62 L143.50,436.59 L144.93,436.56 L146.36,436.52 L147.80,436.49 L149.23,436.45 L150.66,436.41 L152.09,436.37 L153.52,436.33 L154.95,436.28 L156.38,436.23 L157.81,436.18 L159.24,436.13 L160.67,436.07 L162.11,436.02 L163.54,435.96 L164.97,435.89 L166.40,435.83 L167.83,435.76 L169.26,435.68 L170.69,435.60 L172.12,435.52 L173.55,435.44 L174.98,435.35 L176.42,435.26 L177.85,435.16 L179.28,435.05 L180.71,434.95 L182.14,434.83 L183.57,434.71 L185.00,434.59 L186.43,434.46 L187.86,434.32 L189.29,434.17 L190.73,434.02 L192.16,433.86 L193.59,433.70 L195.02,433.52 L196.45,433.34 L197.88,433.14 L199.31,432.94 L200.74,432.73 L202.17,432.51 L203.60,432.27 L205.04,432.03 L206.47,431.77 L207.90,431.50 L209.33,431.21 L210.76,430.92 L212.19,430.60 L213.62,430.28 L215.05,429.93 L216.48,429.57 L217.91,429.19 L219.34,428.80 L220.78,428.38 L222.21,427.94 L223.64,427.49 L225.07,427.01 L226.50,426.50 L227.93,425.97 L229.36,425.42 L230.79,424.84 L232.22,424.23 L233.66,423.60 L235.09,422.93 L236.52,422.23 L237.95,421.49 L239.38,420.73 L240.81,419.92 L242.24,419.08 L243.67,418.20 L245.10,417.27 L246.53,416.31 L247.97,415.30 L249.40,414.24 L250.83,413.13 L252.26,411.98 L253.69,410.77 L255.12,409.50 L256.55,408.18 L257.98,406.80 L259.41,405.36 L260.84,403.86 L262.27,402.29 L263.71,400.65 L265.14,398.95 L266.57,397.17 L268.00,395.32 L269.43,393.39 L270.86,391.38 L272.29,389.30 L273.72,387.13 L275.15,384.87 L276.59,382.53 L278.02,380.10 L279.45,377.58 L280.88,374.96 L282.31,372.25 L283.74,369.45 L285.17,366.55 L286.60,363.56 L288.03,360.46 L289.46,357.27 L290.89,353.97 L292.33,350.58 L293.76,347.09 L295.19,343.50 L296.62,339.81 L298.05,336.03 L299.48,332.14 L300.91,328.17 L302.34,324.11 L303.77,319.95 L305.21,315.71 L306.64,311.39 L308.07,306.99 L309.50,302.51 L310.93,297.96 L312.36,293.35 L313.79,288.67 L315.22,283.94 L316.65,279.16 L318.08,274.34 L319.51,269.48 L320.95,264.59 L322.38,259.67 L323.81,254.74 L325.24,249.80 L326.67,244.85 L328.10,239.91 L329.53,234.98 L330.96,230.06 L332.39,225.17 L333.83,220.31 L335.26,215.49 L336.69,210.71 L338.12,205.99 L339.55,201.32 L340.98,196.71 L342.41,192.17 L343.84,187.70 L345.27,183.31 L346.70,179.00 L348.13,174.78 L349.57,170.64 L351.00,166.60 L352.43,162.65 L353.86,158.80 L355.29,155.05 L356.72,151.40 L358.15,147.85 L359.58,144.41 L361.01,141.07 L362.45,137.83 L363.88,134.69 L365.31,131.66 L366.74,128.73 L368.17,125.91 L369.60,123.18 L371.03,120.55 L372.46,118.02 L373.89,115.59 L375.32,113.25 L376.75,111.01 L378.19,108.85 L379.62,106.78 L381.05,104.80 L382.48,102.90 L383.91,101.08 L385.34,99.34 L386.77,97.68 L388.20,96.09 L389.63,94.57 L391.07,93.12 L392.50,91.74 L393.93,90.42 L395.36,89.16 L396.79,87.96 L398.22,86.82 L399.65,85.73 L401.08,84.69 L402.51,83.71 L403.94,82.77 L405.38,81.88 L406.81,81.04 L408.24,80.23 L409.67,79.47 L411.10,78.74 L412.53,78.05 L413.96,77.40 L415.39,76.78 L416.82,76.19 L418.25,75.63 L419.69,75.10 L421.12,74.60 L422.55,74.12 L423.98,73.67 L425.41,73.25 L426.84,72.84 L428.27,72.46 L429.70,72.09 L431.13,71.75 L432.56,71.42 L434.00,71.12 L435.43,70.82 L436.86,70.55 L438.29,70.29 L439.72,70.04 L441.15,69.81 L442.58,69.58 L444.01,69.37 L445.44,69.18 L446.87,68.99 L448.31,68.81 L449.74,68.65 L451.17,68.49 L452.60,68.34 L454.03,68.20 L455.46,68.06 L456.89,67.94 L458.32,67.82 L459.75,67.70 L461.18,67.60 L462.62,67.50 L464.05,67.40 L465.48,67.31 L466.91,67.23 L468.34,67.15 L469.77,67.07 L471.20,67.00 L472.63,66.93 L474.06,66.87 L475.49,66.81 L476.93,66.75 L478.36,66.70 L479.79,66.65 L481.22,66.60 L482.65,66.56 L484.08,66.51 L485.51,66.47 L486.94,66.43 L488.37,66.40 L489.80,66.36 L491.24,66.33 L492.67,66.30 L494.10,66.27 L495.53,66.25 L496.96,66.22 L498.39,66.20 L499.82,66.18 L501.25,66.15 L502.68,66.13 L504.11,66.11 L505.55,66.10 L506.98,66.08 L508.41,66.06 L509.84,66.05 L511.27,66.04 L512.70,66.02 L514.13,66.01 L515.56,66.00 L516.99,65.99 L518.42,65.98 L519.86,65.97 L521.29,65.96 L522.72,65.95 L524.15,65.94 L525.58,65.93 L527.01,65.92 L528.44,65.92 L529.87,65.91 L531.30,65.90 L532.73,65.90 L534.17,65.89 L535.60,65.89 L537.03,65.88 L538.46,65.88 L539.89,65.87 L541.32,65.87 L542.75,65.86 L544.18,65.86 L545.61,65.86 L547.04,65.85 L548.48,65.85 L549.91,65.85 L551.34,65.85 L552.77,65.84 L554.20,65.84 L555.63,65.84 L557.06,65.84 L558.49,65.83 L559.92,65.83 L561.35,65.83 L562.78,65.83 L564.22,65.83 L565.65,65.83 L567.08,65.82 L568.51,65.82 L569.94,65.82 L571.37,65.82 L572.80,65.82 L574.23,65.82 L575.66,65.82 L577.10,65.82 L578.53,65.81 L579.96,65.81 L581.39,65.81 L582.82,65.81 L584.25,65.81 L585.68,65.81 L587.11,65.81 L588.54,65.81 L589.97,65.81 L591.40,65.81 L592.84,65.81 L594.27,65.81 L595.70,65.81 L597.13,65.81 L598.56,65.81 L599.99,65.81 L601.42,65.81 L602.85,65.81 L604.28,65.81 L605.72,65.80 L607.15,65.80 L608.58,65.80 L610.01,65.80 L611.44,65.80 L612.87,65.80 L614.30,65.80 L615.73,65.80 L617.16,65.80 L618.59,65.80 L620.02,65.80 L621.46,65.80 L622.89,65.80 L624.32,65.80 L625.75,65.80 L627.18,65.80 L628.61,65.80 L630.04,65.80 L631.47,65.80 L632.90,65.80 L634.34,65.80 L635.77,65.80 L637.20,65.80 L638.63,65.80 L640.06,65.80 L641.49,65.80 L642.92,65.80 L644.35,65.80 L645.78,65.80 L647.21,65.80 L648.64,65.80 L650.08,65.80 L651.51,65.80 L652.94,65.80 L654.37,65.80 L655.80,65.80" fill="none" stroke="#00BFC4" stroke-width="1.45" stroke-dasharray="1.45 3.75"/>
<path d="M83.40,437.26 L84.83,437.26 L86.26,437.25 L87.69,437.25 L89.12,437.25 L90.56,437.25 L91.99,437.25 L93.42,437.25 L94.85,437.25 L96.28,437.25 L97.71,437.25 L99.14,437.25 L100.57,437.25 L102.00,437.25 L103.43,437.25 L104.87,437.25 L106.30,437.25 L107.73,437.25 L109.16,437.25 L110.59,437.25 L112.02,437.24 L113.45,437.24 L114.88,437.24 L116.31,437.24 L117.74,437.24 L119.18,437.24 L120.61,437.24 L122.04,437.24 L123.47,437.24 L124.90,437.23 L126.33,437.23 L127.76,437.23 L129.19,437.23 L130.62,437.23 L132.05,437.23 L133.49,437.22 L134.92,437.22 L136.35,437.22 L137.78,437.22 L139.21,437.21 L140.64,437.21 L142.07,437.21 L143.50,437.21 L144.93,437.20 L146.36,437.20 L147.80,437.19 L149.23,437.19 L150.66,437.19 L152.09,437.18 L153.52,437.18 L154.95,437.17 L156.38,437.17 L157.81,437.16 L159.24,437.16 L160.67,437.15 L162.11,437.14 L163.54,437.14 L164.97,437.13 L166.40,437.12 L167.83,437.11 L169.26,437.10 L170.69,437.09 L172.12,437.09 L173.55,437.07 L174.98,437.06 L176.42,437.05 L177.85,437.04 L179.28,437.03 L180.71,437.01 L182.14,437.00 L183.57,436.98 L185.00,436.97 L186.43,436.95 L187.86,436.93 L189.29,436.91 L190.73,436.89 L192.16,436.87 L193.59,436.84 L195.02,436.82 L196.45,436.79 L197.88,436.77 L199.31,436.74 L200.74,436.71 L202.17,436.67 L203.60,436.64 L205.04,436.60 L206.47,436.56 L207.90,436.52 L209.33,436.48 L210.76,436.44 L212.19,436.39 L213.62,436.34 L215.05,436.28 L216.48,436.22 L217.91,436.16 L219.34,436.10 L220.78,436.03 L222.21,435.96 L223.64,435.89 L225.07,435.81 L226.50,435.72 L227.93,435.63 L229.36,435.54 L230.79,435.44 L232.22,435.33 L233.66,435.22 L235.09,435.10 L236.52,434.98 L237.95,434.85 L239.38,434.71 L240.81,434.57 L242.24,434.41 L243.67,434.25 L245.10,434.08 L246.53,433.89 L247.97,433.70 L249.40,433.50 L250.83,433.29 L252.26,433.06 L253.69,432.82 L255.12,432.57 L256.55,432.31 L257.98,432.03 L259.41,431.73 L260.84,431.42 L262.27,431.10 L263.71,430.75 L265.14,430.39 L266.57,430.01 L268.00,429.60 L269.43,429.18 L270.86,428.73 L272.29,428.26 L273.72,427.77 L275.15,427.24 L276.59,426.70 L278.02,426.12 L279.45,425.51 L280.88,424.87 L282.31,424.20 L283.74,423.50 L285.17,422.76 L286.60,421.98 L288.03,421.16 L289.46,420.31 L290.89,419.41 L292.33,418.46 L293.76,417.47 L295.19,416.44 L296.62,415.35 L298.05,414.21 L299.48,413.02 L300.91,411.77 L302.34,410.46 L303.77,409.10 L305.21,407.67 L306.64,406.18 L308.07,404.62 L309.50,402.99 L310.93,401.30 L312.36,399.53 L313.79,397.69 L315.22,395.77 L316.65,393.77 L318.08,391.69 L319.51,389.53 L320.95,387.28 L322.38,384.95 L323.81,382.54 L325.24,380.03 L326.67,377.43 L328.10,374.75 L329.53,371.97 L330.96,369.10 L332.39,366.13 L333.83,363.08 L335.26,359.92 L336.69,356.68 L338.12,353.34 L339.55,349.91 L340.98,346.38 L342.41,342.77 L343.84,339.07 L345.27,335.28 L346.70,331.41 L348.13,327.45 L349.57,323.41 L351.00,319.30 L352.43,315.11 L353.86,310.86 L355.29,306.54 L356.72,302.16 L358.15,297.72 L359.58,293.23 L361.01,288.69 L362.45,284.11 L363.88,279.50 L365.31,274.85 L366.74,270.18 L368.17,265.50 L369.60,260.80 L371.03,256.09 L372.46,251.38 L373.89,246.68 L375.32,241.99 L376.75,237.31 L378.19,232.66 L379.62,228.04 L381.05,223.45 L382.48,218.90 L383.91,214.40 L385.34,209.95 L386.77,205.55 L388.20,201.21 L389.63,196.93 L391.07,192.72 L392.50,188.57 L393.93,184.51 L395.36,180.51 L396.79,176.60 L398.22,172.77 L399.65,169.02 L401.08,165.36 L402.51,161.79 L403.94,158.30 L405.38,154.90 L406.81,151.59 L408.24,148.37 L409.67,145.24 L411.10,142.20 L412.53,139.25 L413.96,136.39 L415.39,133.62 L416.82,130.93 L418.25,128.34 L419.69,125.82 L421.12,123.39 L422.55,121.05 L423.98,118.78 L425.41,116.60 L426.84,114.49 L428.27,112.46 L429.70,110.50 L431.13,108.62 L432.56,106.81 L434.00,105.06 L435.43,103.38 L436.86,101.77 L438.29,100.22 L439.72,98.73 L441.15,97.30 L442.58,95.93 L444.01,94.62 L445.44,93.36 L446.87,92.15 L448.31,90.98 L449.74,89.87 L451.17,88.81 L452.60,87.79 L454.03,86.81 L455.46,85.87 L456.89,84.98 L458.32,84.12 L459.75,83.30 L461.18,82.51 L462.62,81.76 L464.05,81.04 L465.48,80.36 L466.91,79.70 L468.34,79.07 L469.77,78.47 L471.20,77.90 L472.63,77.35 L474.06,76.82 L475.49,76.32 L476.93,75.85 L478.36,75.39 L479.79,74.95 L481.22,74.54 L482.65,74.14 L484.08,73.76 L485.51,73.39 L486.94,73.05 L488.37,72.72 L489.80,72.40 L491.24,72.10 L492.67,71.81 L494.10,71.54 L495.53,71.27 L496.96,71.02 L498.39,70.78 L499.82,70.56 L501.25,70.34 L502.68,70.13 L504.11,69.93 L505.55,69.74 L506.98,69.56 L508.41,69.39 L509.84,69.22 L511.27,69.07 L512.70,68.92 L514.13,68.78 L515.56,68.64 L516.99,68.51 L518.42,68.38 L519.86,68.27 L521.29,68.15 L522.72,68.05 L524.15,67.94 L525.58,67.84 L527.01,67.75 L528.44,67.66 L529.87,67.58 L531.30,67.49 L532.73,67.42 L534.17,67.34 L535.60,67.27 L537.03,67.20 L538.46,67.14 L539.89,67.08 L541.32,67.02 L542.75,66.96 L544.18,66.91 L545.61,66.86 L547.04,66.81 L548.48,66.77 L549.91,66.72 L551.34,66.68 L552.77,66.64 L554.20,66.60 L555.63,66.56 L557.06,66.53 L558.49,66.50 L559.92,66.46 L561.35,66.43 L562.78,66.41 L564.22,66.38 L565.65,66.35 L567.08,66.33 L568.51,66.30 L569.94,66.28 L571.37,66.26 L572.80,66.24 L574.23,66.22 L575.66,66.20 L577.10,66.18 L578.53,66.16 L579.96,66.15 L581.39,66.13 L582.82,66.11 L584.25,66.10 L585.68,66.09 L587.11,66.07 L588.54,66.06 L589.97,66.05 L591.40,66.04 L592.84,66.03 L594.27,66.02 L595.70,66.01 L597.13,66.00 L598.56,65.99 L599.99,65.98 L601.42,65.97 L602.85,65.96 L604.28,65.96 L605.72,65.95 L607.15,65.94 L608.58,65.94 L610.01,65.93 L611.44,65.92 L612.87,65.92 L614.30,65.91 L615.73,65.91 L617.16,65.90 L618.59,65.90 L620.02,65.89 L621.46,65.89 L622.89,65.89 L624.32,65.88 L625.75,65.88 L627.18,65.87 L628.61,65.87 L630.04,65.87 L631.47,65.86 L632.90,65.86 L634.34,65.86 L635.77,65.86 L637.20,65.85 L638.63,65.85 L640.06,65.85 L641.49,65.85 L642.92,65.84 L644.35,65.84 L645.78,65.84 L647.21,65.84 L648.64,65.84 L650.08,65.84 L651.51,65.83 L652.94,65.83 L654.37,65.83 L655.80,65.83" fill="none" stroke="#00BFC4" stroke-width="1.45" stroke-dasharray="1.45 3.75"/>
<path d="M83.40,437.17 L84.83,437.16 L86.26,437.16 L87.69,437.15 L89.12,437.15 L90.56,437.14 L91.99,437.13 L93.42,437.13 L94.85,437.12 L96.28,437.11 L97.71,437.11 L99.14,437.10 L100.57,437.09 L102.00,437.08 L103.43,437.07 L104.87,437.06 L106.30,437.05 L107.73,437.04 L109.16,437.03 L110.59,437.02 L112.02,437.01 L113.45,437.00 L114.88,436.98 L116.31,436.97 L117.74,436.95 L119.18,436.94 L120.61,436.92 L122.04,436.91 L123.47,436.89 L124.90,436.87 L126.33,436.85 L127.76,436.83 L129.19,436.81 L130.62,436.78 L132.05,436.76 L133.49,436.73 L134.92,436.70 L136.35,436.68 L137.78,436.65 L139.21,436.62 L140.64,436.58 L142.07,436.55 L143.50,436.51 L144.93,436.47 L146.36,436.43 L147.80,436.39 L149.23,436.34 L150.66,436.30 L152.09,436.25 L153.52,436.20 L154.95,436.14 L156.38,436.08 L157.81,436.02 L159.24,435.96 L160.67,435.89 L162.11,435.82 L163.54,435.75 L164.97,435.67 L166.40,435.59 L167.83,435.50 L169.26,435.41 L170.69,435.32 L172.12,435.22 L173.55,435.11 L174.98,435.00 L176.42,434.88 L177.85,434.76 L179.28,434.63 L180.71,434.49 L182.14,434.35 L183.57,434.20 L185.00,434.04 L186.43,433.87 L187.86,433.70 L189.29,433.51 L190.73,433.32 L192.16,433.12 L193.59,432.90 L195.02,432.67 L196.45,432.44 L197.88,432.19 L199.31,431.92 L200.74,431.65 L202.17,431.35 L203.60,431.05 L205.04,430.73 L206.47,430.39 L207.90,430.03 L209.33,429.65 L210.76,429.26 L212.19,428.84 L213.62,428.41 L215.05,427.95 L216.48,427.47 L217.91,426.96 L219.34,426.43 L220.78,425.87 L222.21,425.28 L223.64,424.66 L225.07,424.01 L226.50,423.32 L227.93,422.61 L229.36,421.85 L230.79,421.06 L232.22,420.23 L233.66,419.36 L235.09,418.44 L236.52,417.48 L237.95,416.47 L239.38,415.41 L240.81,414.30 L242.24,413.14 L243.67,411.92 L245.10,410.64 L246.53,409.30 L247.97,407.90 L249.40,406.43 L250.83,404.90 L252.26,403.29 L253.69,401.61 L255.12,399.86 L256.55,398.02 L257.98,396.11 L259.41,394.11 L260.84,392.02 L262.27,389.85 L263.71,387.58 L265.14,385.23 L266.57,382.77 L268.00,380.22 L269.43,377.57 L270.86,374.81 L272.29,371.95 L273.72,368.99 L275.15,365.91 L276.59,362.73 L278.02,359.44 L279.45,356.04 L280.88,352.53 L282.31,348.92 L283.74,345.19 L285.17,341.35 L286.60,337.40 L288.03,333.35 L289.46,329.20 L290.89,324.94 L292.33,320.58 L293.76,316.13 L295.19,311.58 L296.62,306.95 L298.05,302.24 L299.48,297.45 L300.91,292.58 L302.34,287.65 L303.77,282.66 L305.21,277.62 L306.64,272.53 L308.07,267.40 L309.50,262.24 L310.93,257.06 L312.36,251.87 L313.79,246.66 L315.22,241.46 L316.65,236.27 L318.08,231.10 L319.51,225.95 L320.95,220.83 L322.38,215.76 L323.81,210.73 L325.24,205.76 L326.67,200.86 L328.10,196.02 L329.53,191.26 L330.96,186.58 L332.39,181.99 L333.83,177.49 L335.26,173.09 L336.69,168.78 L338.12,164.58 L339.55,160.49 L340.98,156.50 L342.41,152.63 L343.84,148.87 L345.27,145.22 L346.70,141.68 L348.13,138.26 L349.57,134.96 L351.00,131.77 L352.43,128.69 L353.86,125.73 L355.29,122.87 L356.72,120.13 L358.15,117.49 L359.58,114.96 L361.01,112.53 L362.45,110.21 L363.88,107.98 L365.31,105.85 L366.74,103.81 L368.17,101.86 L369.60,100.00 L371.03,98.23 L372.46,96.53 L373.89,94.92 L375.32,93.39 L376.75,91.92 L378.19,90.53 L379.62,89.21 L381.05,87.95 L382.48,86.75 L383.91,85.61 L385.34,84.54 L386.77,83.51 L388.20,82.54 L389.63,81.62 L391.07,80.75 L392.50,79.92 L393.93,79.14 L395.36,78.39 L396.79,77.69 L398.22,77.02 L399.65,76.39 L401.08,75.80 L402.51,75.24 L403.94,74.70 L405.38,74.20 L406.81,73.72 L408.24,73.27 L409.67,72.85 L411.10,72.44 L412.53,72.07 L413.96,71.71 L415.39,71.37 L416.82,71.05 L418.25,70.75 L419.69,70.46 L421.12,70.19 L422.55,69.94 L423.98,69.70 L425.41,69.48 L426.84,69.26 L428.27,69.06 L429.70,68.87 L431.13,68.69 L432.56,68.53 L434.00,68.37 L435.43,68.22 L436.86,68.08 L438.29,67.94 L439.72,67.82 L441.15,67.70 L442.58,67.59 L444.01,67.48 L445.44,67.39 L446.87,67.29 L448.31,67.21 L449.74,67.12 L451.17,67.05 L452.60,66.97 L454.03,66.90 L455.46,66.84 L456.89,66.78 L458.32,66.72 L459.75,66.67 L461.18,66.61 L462.62,66.57 L464.05,66.52 L465.48,66.48 L466.91,66.44 L468.34,66.40 L469.77,66.37 L471.20,66.33 L472.63,66.30 L474.06,66.27 L475.49,66.24 L476.93,66.22 L478.36,66.19 L479.79,66.17 L481.22,66.15 L482.65,66.13 L484.08,66.11 L485.51,66.09 L486.94,66.07 L488.37,66.06 L489.80,66.04 L491.24,66.03 L492.67,66.01 L494.10,66.00 L495.53,65.99 L496.96,65.98 L498.39,65.97 L499.82,65.96 L501.25,65.95 L502.68,65.94 L504.11,65.93 L505.55,65.92 L506.98,65.91 L508.41,65.91 L509.84,65.90 L511.27,65.90 L512.70,65.89 L514.13,65.88 L515.56,65.88 L516.99,65.87 L518.42,65.87 L519.86,65.87 L521.29,65.86 L522.72,65.86 L524.15,65.85 L525.58,65.85 L527.01,65.85 L528.44,65.85 L529.87,65.84 L531.30,65.84 L532.73,65.84 L534.17,65.84 L535.60,65.83 L537.03,65.83 L538.46,65.83 L539.89,65.83 L541.32,65.83 L542.75,65.82 L544.18,65.82 L545.61,65.82 L547.04,65.82 L548.48,65.82 L549.91,65.82 L551.34,65.82 L552.77,65.82 L554.20,65.81 L555.63,65.81 L557.06,65.81 L558.49,65.81 L559.92,65.81 L561.35,65.81 L562.78,65.81 L564.22,65.81 L565.65,65.81 L567.08,65.81 L568.51,65.81 L569.94,65.81 L571.37,65.81 L572.80,65.81 L574.23,65.81 L575.66,65.81 L577.10,65.81 L578.53,65.81 L579.96,65.80 L581.39,65.80 L582.82,65.80 L584.25,65.80 L585.68,65.80 L587.11,65.80 L588.54,65.80 L589.97,65.80 L591.40,65.80 L592.84,65.80 L594.27,65.80 L595.70,65.80 L597.13,65.80 L598.56,65.80 L599.99,65.80 L601.42,65.80 L602.85,65.80 L604.28,65.80 L605.72,65.80 L607.15,65.80 L608.58,65.80 L610.01,65.80 L611.44,65.80 L612.87,65.80 L614.30,65.80 L615.73,65.80 L617.16,65.80 L618.59,65.80 L620.02,65.80 L621.46,65.80 L622.89,65.80 L624.32,65.80 L625.75,65.80 L627.18,65.80 L628.61,65.80 L630.04,65.80 L631.47,65.80 L632.90,65.80 L634.34,65.80 L635.77,65.80 L637.20,65.80 L638.63,65.80 L640.06,65.80 L641.49,65.80 L642.92,65.80 L644.35,65.80 L645.78,65.80 L647.21,65.80 L648.64,65.80 L650.08,65.80 L651.51,65.80 L652.94,65.80 L654.37,65.80 L655.80,65.80 L655.80,65.81 L654.37,65.81 L652.94,65.81 L651.51,65.81 L650.08,65.81 L648.64,65.81 L647.21,65.82 L645.78,65.82 L644.35,65.82 L642.92,65.82 L641.49,65.82 L640.06,65.82 L638.63,65.82 L637.20,65.82 L635.77,65.82 L634.34,65.82 L632.90,65.83 L631.47,65.83 L630.04,65.83 L628.61,65.83 L627.18,65.83 L625.75,65.83 L624.32,65.83 L622.89,65.84 L621.46,65.84 L620.02,65.84 L618.59,65.84 L617.16,65.84 L615.73,65.85 L614.30,65.85 L612.87,65.85 L611.44,65.85 L610.01,65.85 L608.58,65.86 L607.15,65.86 L605.72,65.86 L604.28,65.87 L602.85,65.87 L601.42,65.87 L599.99,65.88 L598.56,65.88 L597.13,65.88 L595.70,65.89 L594.27,65.89 L592.84,65.90 L591.40,65.90 L589.97,65.91 L588.54,65.91 L587.11,65.92 L585.68,65.93 L584.25,65.93 L582.82,65.94 L581.39,65.95 L579.96,65.95 L578.53,65.96 L577.10,65.97 L575.66,65.98 L574.23,65.99 L572.80,65.99 L571.37,66.00 L569.94,66.01 L568.51,66.03 L567.08,66.04 L565.65,66.05 L564.22,66.06 L562.78,66.07 L561.35,66.09 L559.92,66.10 L558.49,66.12 L557.06,66.13 L555.63,66.15 L554.20,66.17 L552.77,66.19 L551.34,66.21 L549.91,66.23 L548.48,66.25 L547.04,66.27 L545.61,66.29 L544.18,66.32 L542.75,66.34 L541.32,66.37 L539.89,66.40 L538.46,66.43 L537.03,66.46 L535.60,66.50 L534.17,66.53 L532.73,66.57 L531.30,66.61 L529.87,66.65 L528.44,66.69 L527.01,66.73 L525.58,66.78 L524.15,66.83 L522.72,66.88 L521.29,66.94 L519.86,66.99 L518.42,67.05 L516.99,67.12 L515.56,67.18 L514.13,67.25 L512.70,67.33 L511.27,67.40 L509.84,67.48 L508.41,67.57 L506.98,67.66 L505.55,67.75 L504.11,67.85 L502.68,67.95 L501.25,68.06 L499.82,68.18 L498.39,68.30 L496.96,68.42 L495.53,68.55 L494.10,68.69 L492.67,68.84 L491.24,68.99 L489.80,69.15 L488.37,69.32 L486.94,69.50 L485.51,69.68 L484.08,69.88 L482.65,70.09 L481.22,70.30 L479.79,70.53 L478.36,70.77 L476.93,71.02 L475.49,71.28 L474.06,71.56 L472.63,71.85 L471.20,72.15 L469.77,72.47 L468.34,72.80 L466.91,73.15 L465.48,73.52 L464.05,73.91 L462.62,74.32 L461.18,74.74 L459.75,75.19 L458.32,75.66 L456.89,76.15 L455.46,76.67 L454.03,77.21 L452.60,77.78 L451.17,78.38 L449.74,79.00 L448.31,79.66 L446.87,80.35 L445.44,81.07 L444.01,81.82 L442.58,82.61 L441.15,83.44 L439.72,84.31 L438.29,85.22 L436.86,86.17 L435.43,87.16 L434.00,88.20 L432.56,89.29 L431.13,90.43 L429.70,91.62 L428.27,92.87 L426.84,94.17 L425.41,95.53 L423.98,96.95 L422.55,98.43 L421.12,99.98 L419.69,101.59 L418.25,103.27 L416.82,105.03 L415.39,106.85 L413.96,108.75 L412.53,110.73 L411.10,112.79 L409.67,114.93 L408.24,117.16 L406.81,119.47 L405.38,121.87 L403.94,124.36 L402.51,126.93 L401.08,129.61 L399.65,132.37 L398.22,135.23 L396.79,138.19 L395.36,141.24 L393.93,144.39 L392.50,147.64 L391.07,150.99 L389.63,154.44 L388.20,157.98 L386.77,161.62 L385.34,165.36 L383.91,169.19 L382.48,173.11 L381.05,177.13 L379.62,181.23 L378.19,185.42 L376.75,189.69 L375.32,194.05 L373.89,198.47 L372.46,202.97 L371.03,207.53 L369.60,212.16 L368.17,216.84 L366.74,221.58 L365.31,226.36 L363.88,231.17 L362.45,236.02 L361.01,240.90 L359.58,245.80 L358.15,250.71 L356.72,255.63 L355.29,260.55 L353.86,265.46 L352.43,270.35 L351.00,275.23 L349.57,280.08 L348.13,284.89 L346.70,289.66 L345.27,294.39 L343.84,299.06 L342.41,303.68 L340.98,308.23 L339.55,312.71 L338.12,317.12 L336.69,321.46 L335.26,325.71 L333.83,329.87 L332.39,333.95 L330.96,337.93 L329.53,341.82 L328.10,345.62 L326.67,349.31 L325.24,352.91 L323.81,356.40 L322.38,359.79 L320.95,363.08 L319.51,366.27 L318.08,369.36 L316.65,372.35 L315.22,375.23 L313.79,378.01 L312.36,380.70 L310.93,383.29 L309.50,385.78 L308.07,388.18 L306.64,390.48 L305.21,392.70 L303.77,394.82 L302.34,396.86 L300.91,398.82 L299.48,400.69 L298.05,402.48 L296.62,404.20 L295.19,405.84 L293.76,407.41 L292.33,408.91 L290.89,410.34 L289.46,411.71 L288.03,413.01 L286.60,414.25 L285.17,415.44 L283.74,416.57 L282.31,417.64 L280.88,418.67 L279.45,419.64 L278.02,420.56 L276.59,421.45 L275.15,422.28 L273.72,423.08 L272.29,423.83 L270.86,424.55 L269.43,425.23 L268.00,425.88 L266.57,426.49 L265.14,427.07 L263.71,427.63 L262.27,428.15 L260.84,428.65 L259.41,429.12 L257.98,429.56 L256.55,429.98 L255.12,430.38 L253.69,430.76 L252.26,431.12 L250.83,431.46 L249.40,431.78 L247.97,432.09 L246.53,432.37 L245.10,432.65 L243.67,432.90 L242.24,433.15 L240.81,433.38 L239.38,433.59 L237.95,433.80 L236.52,433.99 L235.09,434.18 L233.66,434.35 L232.22,434.52 L230.79,434.67 L229.36,434.82 L227.93,434.96 L226.50,435.09 L225.07,435.21 L223.64,435.33 L222.21,435.44 L220.78,435.54 L219.34,435.64 L217.91,435.73 L216.48,435.82 L215.05,435.90 L213.62,435.98 L212.19,436.05 L210.76,436.12 L209.33,436.19 L207.90,436.25 L206.47,436.31 L205.04,436.36 L203.60,436.41 L202.17,436.46 L200.74,436.51 L199.31,436.55 L197.88,436.59 L196.45,436.63 L195.02,436.67 L193.59,436.70 L192.16,436.73 L190.73,436.76 L189.29,436.79 L187.86,436.82 L186.43,436.85 L185.00,436.87 L183.57,436.89 L182.14,436.91 L180.71,436.93 L179.28,436.95 L177.85,436.97 L176.42,436.99 L174.98,437.00 L173.55,437.02 L172.12,437.03 L170.69,437.05 L169.26,437.06 L167.83,437.07 L166.40,437.08 L164.97,437.09 L163.54,437.10 L162.11,437.11 L160.67,437.12 L159.24,437.13 L157.81,437.14 L156.38,437.14 L154.95,437.15 L153.52,437.16 L152.09,437.16 L150.66,437.17 L149.23,437.17 L147.80,437.18 L146.36,437.18 L144.93,437.19 L143.50,437.19 L142.07,437.20 L140.64,437.20 L139.21,437.20 L137.78,437.21 L136.35,437.21 L134.92,437.21 L133.49,437.22 L132.05,437.22 L130.62,437.22 L129.19,437.22 L127.76,437.23 L126.33,437.23 L124.90,437.23 L123.47,437.23 L122.04,437.23 L120.61,437.23 L119.18,437.24 L117.74,437.24 L116.31,437.24 L114.88,437.24 L113.45,437.24 L112.02,437.24 L110.59,437.24 L109.16,437.24 L107.73,437.25 L106.30,437.25 L104.87,437.25 L103.43,437.25 L102.00,437.25 L100.57,437.25 L99.14,437.25 L97.71,437.25 L96.28,437.25 L94.85,437.25 L93.42,437.25 L91.99,437.25 L90.56,437.25 L89.12,437.25 L87.69,437.25 L86.26,437.25 L84.83,437.25 L83.40,437.25Z" fill="#C77CFF" fill-opacity="0.1" stroke="none"/>
<path d="M83.40,437.17 L84.83,437.16 L86.26,437.16 L87.69,437.15 L89.12,437.15 L90.56,437.14 L91.99,437.13 L93.42,437.13 L94.85,437.12 L96.28,437.11 L97.71,437.11 L99.14,437.10 L100.57,437.09 L102.00,437.08 L103.43,437.07 L104.87,437.06 L106.30,437.05 L107.73,437.04 L109.16,437.03 L110.59,437.02 L112.02,437.01 L113.45,437.00 L114.88,436.98 L116.31,436.97 L117.74,436.95 L119.18,436.94 L120.61,436.92 L122.04,436.91 L123.47,436.89 L124.90,436.87 L126.33,436.85 L127.76,436.83 L129.19,436.81 L130.62,436.78 L132.05,436.76 L133.49,436.73 L134.92,436.70 L136.35,436.68 L137.78,436.65 L139.21,436.62 L140.64,436.58 L142.07,436.55 L143.50,436.51 L144.93,436.47 L146.36,436.43 L147.80,436.39 L149.23,436.34 L150.66,436.30 L152.09,436.25 L153.52,436.20 L154.95,436.14 L156.38,436.08 L157.81,436.02 L159.24,435.96 L160.67,435.89 L162.11,435.82 L163.54,435.75 L164.97,435.67 L166.40,435.59 L167.83,435.50 L169.26,435.41 L170.69,435.32 L172.12,435.22 L173.55,435.11 L174.98,435.00 L176.42,434.88 L177.85,434.76 L179.28,434.63 L180.71,434.49 L182.14,434.35 L183.57,434.20 L185.00,434.04 L186.43,433.87 L187.86,433.70 L189.29,433.51 L190.73,433.32 L192.16,433.12 L193.59,432.90 L195.02,432.67 L196.45,432.44 L197.88,432.19 L199.31,431.92 L200.74,431.65 L202.17,431.35 L203.60,431.05 L205.04,430.73 L206.47,430.39 L207.90,430.03 L209.33,429.65 L210.76,429.26 L212.19,428.84 L213.62,428.41 L215.05,427.95 L216.48,427.47 L217.91,426.96 L219.34,426.43 L220.78,425.87 L222.21,425.28 L223.64,424.66 L225.07,424.01 L226.50,423.32 L227.93,422.61 L229.36,421.85 L230.79,421.06 L232.22,420.23 L233.66,419.36 L235.09,418.44 L236.52,417.48 L237.95,416.47 L239.38,415.41 L240.81,414.30 L242.24,413.14 L243.67,411.92 L245.10,410.64 L246.53,409.30 L247.97,407.90 L249.40,406.43 L250.83,404.90 L252.26,403.29 L253.69,401.61 L255.12,399.86 L256.55,398.02 L257.98,396.11 L259.41,394.11 L260.84,392.02 L262.27,389.85 L263.71,387.58 L265.14,385.23 L266.57,382.77 L268.00,380.22 L269.43,377.57 L270.86,374.81 L272.29,371.95 L273.72,368.99 L275.15,365.91 L276.59,362.73 L278.02,359.44 L279.45,356.04 L280.88,352.53 L282.31,348.92 L283.74,345.19 L285.17,341.35 L286.60,337.40 L288.03,333.35 L289.46,329.20 L290.89,324.94 L292.33,320.58 L293.76,316.13 L295.19,311.58 L296.62,306.95 L298.05,302.24 L299.48,297.45 L300.91,292.58 L302.34,287.65 L303.77,282.66 L305.21,277.62 L306.64,272.53 L308.07,267.40 L309.50,262.24 L310.93,257.06 L312.36,251.87 L313.79,246.66 L315.22,241.46 L316.65,236.27 L318.08,231.10 L319.51,225.95 L320.95,220.83 L322.38,215.76 L323.81,210.73 L325.24,205.76 L326.67,200.86 L328.10,196.02 L329.53,191.26 L330.96,186.58 L332.39,181.99 L333.83,177.49 L335.26,173.09 L336.69,168.78 L338.12,164.58 L339.55,160.49 L340.98,156.50 L342.41,152.63 L343.84,148.87 L345.27,145.22 L346.70,141.68 L348.13,138.26 L349.57,134.96 L351.00,131.77 L352.43,128.69 L353.86,125.73 L355.29,122.87 L356.72,120.13 L358.15,117.49 L359.58,114.96 L361.01,112.53 L362.45,110.21 L363.88,107.98 L365.31,105.85 L366.74,103.81 L368.17,101.86 L369.60,100.00 L371.03,98.23 L372.46,96.53 L373.89,94.92 L375.32,93.39 L376.75,91.92 L378.19,90.53 L379.62,89.21 L381.05,87.95 L382.48,86.75 L383.91,85.61 L385.34,84.54 L386.77,83.51 L388.20,82.54 L389.63,81.62 L391.07,80.75 L392.50,79.92 L393.93,79.14 L395.36,78.39 L396.79,77.69 L398.22,77.02 L399.65,76.39 L401.08,75.80 L402.51,75.24 L403.94,74.70 L405.38,74.20 L406.81,73.72 L408.24,73.27 L409.67,72.85 L411.10,72.44 L412.53,72.07 L413.96,71.71 L415.39,71.37 L416.82,71.05 L418.25,70.75 L419.69,70.46 L421.12,70.19 L422.55,69.94 L423.98,69.70 L425.41,69.48 L426.84,69.26 L428.27,69.06 L429.70,68.87 L431.13,68.69 L432.56,68.53 L434.00,68.37 L435.43,68.22 L436.86,68.08 L438.29,67.94 L439.72,67.82 L441.15,67.70 L442.58,67.59 L444.01,67.48 L445.44,67.39 L446.87,67.29 L448.31,67.21 L449.74,67.12 L451.17,67.05 L452.60,66.97 L454.03,66.90 L455.46,66.84 L456.89,66.78 L458.32,66.72 L459.75,66.67 L461.18,66.61 L462.62,66.57 L464.05,66.52 L465.48,66.48 L466.91,66.44 L468.34,66.40 L469.77,66.37 L471.20,66.33 L472.63,66.30 L474.06,66.27 L475.49,66.24 L476.93,66.22 L478.36,66.19 L479.79,66.17 L481.22,66.15 L482.65,66.13 L484.08,66.11 L485.51,66.09 L486.94,66.07 L488.37,66.06 L489.80,66.04 L491.24,66.03 L492.67,66.01 L494.10,66.00 L495.53,65.99 L496.96,65.98 L498.39,65.97 L499.82,65.96 L501.25,65.95 L502.68,65.94 L504.11,65.93 L505.55,65.92 L506.98,65.91 L508.41,65.91 L509.84,65.90 L511.27,65.90 L512.70,65.89 L514.13,65.88 L515.56,65.88 L516.99,65.87 L518.42,65.87 L519.86,65.87 L521.29,65.86 L522.72,65.86 L524.15,65.85 L525.58,65.85 L527.01,65.85 L528.44,65.85 L529.87,65.84 L531.30,65.84 L532.73,65.84 L534.17,65.84 L535.60,65.83 L537.03,65.83 L538.46,65.83 L539.89,65.83 L541.32,65.83 L542.75,65.82 L544.18,65.82 L545.61,65.82 L547.04,65.82 L548.48,65.82 L549.91,65.82 L551.34,65.82 L552.77,65.82 L554.20,65.81 L555.63,65.81 L557.06,65.81 L558.49,65.81 L559.92,65.81 L561.35,65.81 L562.78,65.81 L564.22,65.81 L565.65,65.81 L567.08,65.81 L568.51,65.81 L569.94,65.81 L571.37,65.81 L572.80,65.81 L574.23,65.81 L575.66,65.81 L577.10,65.81 L578.53,65.81 L579.96,65.80 L581.39,65.80 L582.82,65.80 L584.25,65.80 L585.68,65.80 L587.11,65.80 L588.54,65.80 L589.97,65.80 L591.40,65.80 L592.84,65.80 L594.27,65.80 L595.70,65.80 L597.13,65.80 L598.56,65.80 L599.99,65.80 L601.42,65.80 L602.85,65.80 L604.28,65.80 L605.72,65.80 L607.15,65.80 L608.58,65.80 L610.01,65.80 L611.44,65.80 L612.87,65.80 L614.30,65.80 L615.73,65.80 L617.16,65.80 L618.59,65.80 L620.02,65.80 L621.46,65.80 L622.89,65.80 L624.32,65.80 L625.75,65.80 L627.18,65.80 L628.61,65.80 L630.04,65.80 L631.47,65.80 L632.90,65.80 L634.34,65.80 L635.77,65.80 L637.20,65.80 L638.63,65.80 L640.06,65.80 L641.49,65.80 L642.92,65.80 L644.35,65.80 L645.78,65.80 L647.21,65.80 L648.64,65.80 L650.08,65.80 L651.51,65.80 L652.94,65.80 L654.37,65.80 L655.80,65.80" fill="none" stroke="#C77CFF" stroke-width="1.45" stroke-dasharray="1.45 3.75"/>
<path d="M83.40,437.25 L84.83,437.25 L86.26,437.25 L87.69,437.25 L89.12,437.25 L90.56,437.25 L91.99,437.25 L93.42,437.25 L94.85,437.25 L96.28,437.25 L97.71,437.25 L99.14,437.25 L100.57,437.25 L102.00,437.25 L103.43,437.25 L104.87,437.25 L106.30,437.25 L107.73,437.25 L109.16,437.24 L110.59,437.24 L112.02,437.24 L113.45,437.24 L114.88,437.24 L116.31,437.24 L117.74,437.24 L119.18,437.24 L120.61,437.23 L122.04,437.23 L123.47,437.23 L124.90,437.23 L126.33,437.23 L127.76,437.23 L129.19,437.22 L130.62,437.22 L132.05,437.22 L133.49,437.22 L134.92,437.21 L136.35,437.21 L137.78,437.21 L139.21,437.20 L140.64,437.20 L142.07,437.20 L143.50,437.19 L144.93,437.19 L146.36,437.18 L147.80,437.18 L149.23,437.17 L150.66,437.17 L152.09,437.16 L153.52,437.16 L154.95,437.15 L156.38,437.14 L157.81,437.14 L159.24,437.13 L160.67,437.12 L162.11,437.11 L163.54,437.10 L164.97,437.09 L166.40,437.08 L167.83,437.07 L169.26,437.06 L170.69,437.05 L172.12,437.03 L173.55,437.02 L174.98,437.00 L176.42,436.99 L177.85,436.97 L179.28,436.95 L180.71,436.93 L182.14,436.91 L183.57,436.89 L185.00,436.87 L186.43,436.85 L187.86,436.82 L189.29,436.79 L190.73,436.76 L192.16,436.73 L193.59,436.70 L195.02,436.67 L196.45,436.63 L197.88,436.59 L199.31,436.55 L200.74,436.51 L202.17,436.46 L203.60,436.41 L205.04,436.36 L206.47,436.31 L207.90,436.25 L209.33,436.19 L210.76,436.12 L212.19,436.05 L213.62,435.98 L215.05,435.90 L216.48,435.82 L217.91,435.73 L219.34,435.64 L220.78,435.54 L222.21,435.44 L223.64,435.33 L225.07,435.21 L226.50,435.09 L227.93,434.96 L229.36,434.82 L230.79,434.67 L232.22,434.52 L233.66,434.35 L235.09,434.18 L236.52,433.99 L237.95,433.80 L239.38,433.59 L240.81,433.38 L242.24,433.15 L243.67,432.90 L245.10,432.65 L246.53,432.37 L247.97,432.09 L249.40,431.78 L250.83,431.46 L252.26,431.12 L253.69,430.76 L255.12,430.38 L256.55,429.98 L257.98,429.56 L259.41,429.12 L260.84,428.65 L262.27,428.15 L263.71,427.63 L265.14,427.07 L266.57,426.49 L268.00,425.88 L269.43,425.23 L270.86,424.55 L272.29,423.83 L273.72,423.08 L275.15,422.28 L276.59,421.45 L278.02,420.56 L279.45,419.64 L280.88,418.67 L282.31,417.64 L283.74,416.57 L285.17,415.44 L286.60,414.25 L288.03,413.01 L289.46,411.71 L290.89,410.34 L292.33,408.91 L293.76,407.41 L295.19,405.84 L296.62,404.20 L298.05,402.48 L299.48,400.69 L300.91,398.82 L302.34,396.86 L303.77,394.82 L305.21,392.70 L306.64,390.48 L308.07,388.18 L309.50,385.78 L310.93,383.29 L312.36,380.70 L313.79,378.01 L315.22,375.23 L316.65,372.35 L318.08,369.36 L319.51,366.27 L320.95,363.08 L322.38,359.79 L323.81,356.40 L325.24,352.91 L326.67,349.31 L328.10,345.62 L329.53,341.82 L330.96,337.93 L332.39,333.95 L333.83,329.87 L335.26,325.71 L336.69,321.46 L338.12,317.12 L339.55,312.71 L340.98,308.23 L342.41,303.68 L343.84,299.06 L345.27,294.39 L346.70,289.66 L348.13,284.89 L349.57,280.08 L351.00,275.23 L352.43,270.35 L353.86,265.46 L355.29,260.55 L356.72,255.63 L358.15,250.71 L359.58,245.80 L361.01,240.90 L362.45,236.02 L363.88,231.17 L365.31,226.36 L366.74,221.58 L368.17,216.84 L369.60,212.16 L371.03,207.53 L372.46,202.97 L373.89,198.47 L375.32,194.05 L376.75,189.69 L378.19,185.42 L379.62,181.23 L381.05,177.13 L382.48,173.11 L383.91,169.19 L385.34,165.36 L386.77,161.62 L388.20,157.98 L389.63,154.44 L391.07,150.99 L392.50,147.64 L393.93,144.39 L395.36,141.24 L396.79,138.19 L398.22,135.23 L399.65,132.37 L401.08,129.61 L402.51,126.93 L403.94,124.36 L405.38,121.87 L406.81,119.47 L408.24,117.16 L409.67,114.93 L411.10,112.79 L412.53,110.73 L413.96,108.75 L415.39,106.85 L416.82,105.03 L418.25,103.27 L419.69,101.59 L421.12,99.98 L422.55,98.43 L423.98,96.95 L425.41,95.53 L426.84,94.17 L428.27,92.87 L429.70,91.62 L431.13,90.43 L432.56,89.29 L434.00,88.20 L435.43,87.16 L436.86,86.17 L438.29,85.22 L439.72,84.31 L441.15,83.44 L442.58,82.61 L444.01,81.82 L445.44,81.07 L446.87,80.35 L448.31,79.66 L449.74,79.00 L451.17,78.38 L452.60,77.78 L454.03,77.21 L455.46,76.67 L456.89,76.15 L458.32,75.66 L459.75,75.19 L461.18,74.74 L462.62,74.32 L464.05,73.91 L465.48,73.52 L466.91,73.15 L468.34,72.80 L469.77,72.47 L471.20,72.15 L472.63,71.85 L474.06,71.56 L475.49,71.28 L476.93,71.02 L478.36,70.77 L479.79,70.53 L481.22,70.30 L482.65,70.09 L484.08,69.88 L485.51,69.68 L486.94,69.50 L488.37,69.32 L489.80,69.15 L491.24,68.99 L492.67,68.84 L494.10,68.69 L495.53,68.55 L496.96,68.42 L498.39,68.30 L499.82,68.18 L501.25,68.06 L502.68,67.95 L504.11,67.85 L505.55,67.75 L506.98,67.66 L508.41,67.57 L509.84,67.48 L511.27,67.40 L512.70,67.33 L514.13,67.25 L515.56,67.18 L516.99,67.12 L518.42,67.05 L519.86,66.99 L521.29,66.94 L522.72,66.88 L524.15,66.83 L525.58,66.78 L527.01,66.73 L528.44,66.69 L529.87,66.65 L531.30,66.61 L532.73,66.57 L534.17,66.53 L535.60,66.50 L537.03,66.46 L538.46,66.43 L539.89,66.40 L541.32,66.37 L542.75,66.34 L544.18,66.32 L545.61,66.29 L547.04,66.27 L548.48,66.25 L549.91,66.23 L551.34,66.21 L552.77,66.19 L554.20,66.17 L555.63,66.15 L557.06,66.13 L558.49,66.12 L559.92,66.10 L561.35,66.09 L562.78,66.07 L564.22,66.06 L565.65,66.05 L567.08,66.04 L568.51,66.03 L569.94,66.01 L571.37,66.00 L572.80,65.99 L574.23,65.99 L575.66,65.98 L577.10,65.97 L578.53,65.96 L579.96,65.95 L581.39,65.95 L582.82,65.94 L584.25,65.93 L585.68,65.93 L587.11,65.92 L588.54,65.91 L589.97,65.91 L591.40,65.90 L592.84,65.90 L594.27,65.89 L595.70,65.89 L597.13,65.88 L598.56,65.88 L599.99,65.88 L601.42,65.87 L602.85,65.87 L604.28,65.87 L605.72,65.86 L607.15,65.86 L608.58,65.86 L610.01,65.85 L611.44,65.85 L612.87,65.85 L614.30,65.85 L615.73,65.85 L617.16,65.84 L618.59,65.84 L620.02,65.84 L621.46,65.84 L622.89,65.84 L624.32,65.83 L625.75,65.83 L627.18,65.83 L628.61,65.83 L630.04,65.83 L631.47,65.83 L632.90,65.83 L634.34,65.82 L635.77,65.82 L637.20,65.82 L638.63,65.82 L640.06,65.82 L641.49,65.82 L642.92,65.82 L644.35,65.82 L645.78,65.82 L647.21,65.82 L648.64,65.81 L650.08,65.81 L651.51,65.81 L652.94,65.81 L654.37,65.81 L655.80,65.81" fill="none" stroke="#C77CFF" stroke-width="1.45" stroke-dasharray="1.45 3.75"/>
<rect x="55.04" y="47.56" width="628.43" height="407.66" fill="none" stroke="#333333" stroke-width="0.95"/>
<line x1="83.40" y1="455.22" x2="83.40" y2="459.6" stroke="#333333" stroke-width="1.1"/>
<text x="83.40" y="473" text-anchor="middle" class="ax">0</text>
<line x1="226.50" y1="455.22" x2="226.50" y2="459.6" stroke="#333333" stroke-width="1.1"/>
<text x="226.50" y="473" text-anchor="middle" class="ax">5</text>
<line x1="369.60" y1="455.22" x2="369.60" y2="459.6" stroke="#333333" stroke-width="1.1"/>
<text x="369.60" y="473" text-anchor="middle" class="ax">10</text>
<line x1="512.70" y1="455.22" x2="512.70" y2="459.6" stroke="#333333" stroke-width="1.1"/>
<text x="512.70" y="473" text-anchor="middle" class="ax">15</text>
<line x1="655.80" y1="455.22" x2="655.80" y2="459.6" stroke="#333333" stroke-width="1.1"/>
<text x="655.80" y="473" text-anchor="middle" class="ax">20</text>
<line x1="50.2" y1="437.26" x2="55.04" y2="437.26" stroke="#333333" stroke-width="1.1"/>
<text x="46.6" y="442" text-anchor="end" class="ax">0.00</text>
<line x1="50.2" y1="344.39" x2="55.04" y2="344.39" stroke="#333333" stroke-width="1.1"/>
<text x="46.6" y="349" text-anchor="end" class="ax">0.25</text>
<line x1="50.2" y1="251.53" x2="55.04" y2="251.53" stroke="#333333" stroke-width="1.1"/>
<text x="46.6" y="256" text-anchor="end" class="ax">0.50</text>
<line x1="50.2" y1="158.67" x2="55.04" y2="158.67" stroke="#333333" stroke-width="1.1"/>
<text x="46.6" y="164" text-anchor="end" class="ax">0.75</text>
<line x1="50.2" y1="65.80" x2="55.04" y2="65.80" stroke="#333333" stroke-width="1.1"/>
<text x="46.6" y="71" text-anchor="end" class="ax">1.00</text>
<text x="369.4" y="491.7" text-anchor="middle" class="ti">Storage time (days)</text>
<text transform="translate(13.2,252.7) rotate(-90)" x="0" y="0" text-anchor="middle" class="ti">Probability of rejection</text>
<rect x="246.70" y="2.2" width="19.40" height="18.80" fill="#F8766D" fill-opacity="0.1" stroke="none"/>
<path d="M246.70,21.0 L246.70,2.2 L266.10,2.2 L266.10,21.0 Z" fill="none" stroke="#F8766D" stroke-width="1.45" stroke-dasharray="1.45 3.71" stroke-dashoffset="0.25"/>
<line x1="248.00" y1="11.6" x2="264.90" y2="11.6" stroke="#F8766D" stroke-width="2.5"/>
<text x="275.60" y="16" class="lg">3 ºC</text>
<rect x="310.70" y="2.2" width="19.40" height="18.80" fill="#7CAE00" fill-opacity="0.1" stroke="none"/>
<path d="M310.70,21.0 L310.70,2.2 L330.10,2.2 L330.10,21.0 Z" fill="none" stroke="#7CAE00" stroke-width="1.45" stroke-dasharray="1.45 3.71" stroke-dashoffset="0.25"/>
<line x1="312.00" y1="11.6" x2="328.90" y2="11.6" stroke="#7CAE00" stroke-width="2.5"/>
<text x="339.60" y="16" class="lg">5 ºC</text>
<rect x="374.80" y="2.2" width="19.40" height="18.80" fill="#00BFC4" fill-opacity="0.1" stroke="none"/>
<path d="M374.80,21.0 L374.80,2.2 L394.20,2.2 L394.20,21.0 Z" fill="none" stroke="#00BFC4" stroke-width="1.45" stroke-dasharray="1.45 3.71" stroke-dashoffset="0.25"/>
<line x1="376.10" y1="11.6" x2="393.00" y2="11.6" stroke="#00BFC4" stroke-width="2.5"/>
<text x="403.70" y="16" class="lg">7 ºC</text>
<rect x="439.00" y="2.2" width="19.40" height="18.80" fill="#C77CFF" fill-opacity="0.1" stroke="none"/>
<path d="M439.00,21.0 L439.00,2.2 L458.40,2.2 L458.40,21.0 Z" fill="none" stroke="#C77CFF" stroke-width="1.45" stroke-dasharray="1.45 3.71" stroke-dashoffset="0.25"/>
<line x1="440.30" y1="11.6" x2="457.20" y2="11.6" stroke="#C77CFF" stroke-width="2.5"/>
<text x="467.90" y="16" class="lg">12 ºC</text>
<rect x="362.37" y="471.53" width="3.08" height="2.27" fill="#fff"/><rect x="366.66" y="471.53" width="2.98" height="2.27" fill="#fff"/>
<rect x="505.47" y="471.53" width="3.08" height="2.27" fill="#fff"/><rect x="509.76" y="471.53" width="2.98" height="2.27" fill="#fff"/>
<rect x="20.47" y="69.53" width="3.08" height="2.27" fill="#fff"/><rect x="24.75" y="69.53" width="2.98" height="2.27" fill="#fff"/>
<rect x="468.24" y="14.53" width="3.08" height="2.27" fill="#fff"/><rect x="472.52" y="14.53" width="2.98" height="2.27" fill="#fff"/>
</svg>
</body></html>
